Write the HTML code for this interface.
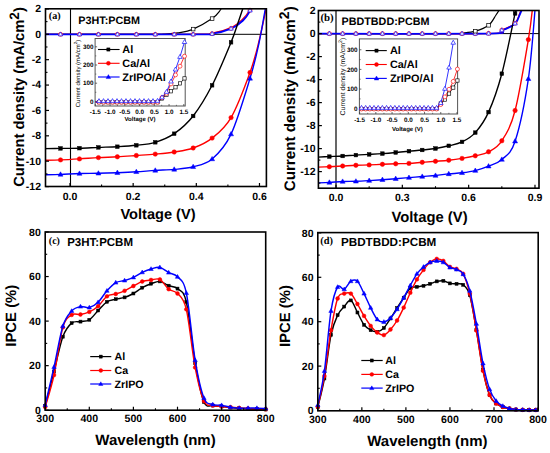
<!DOCTYPE html><html><head><meta charset="utf-8"><style>html,body{margin:0;padding:0;background:#fff;overflow:hidden;width:550px;height:453px;}svg{display:block;}</style></head><body>
<svg width="550" height="453" viewBox="0 0 550 453" text-rendering="geometricPrecision">
<rect width="550" height="453" fill="#fff"/>
<defs><clipPath id="ca"><rect x="45.5" y="8.8" width="220.89999999999998" height="177.7"/></clipPath>
<clipPath id="cb"><rect x="318.4" y="10.5" width="220.60000000000002" height="177.7"/></clipPath>
</defs>
<line x1="45.5" y1="34.3" x2="266.4" y2="34.3" stroke="#000" stroke-width="1.0"/>
<line x1="70.5" y1="8.8" x2="70.5" y2="186.5" stroke="#000" stroke-width="1.1"/>
<g clip-path="url(#ca)">
<path d="M43.5,34.3 C61.25,34.3 129.75,34.35 150,34.3 C170.25,34.25 160.33,34.23 165,34 C169.67,33.77 173.3,33.72 178,32.9 C182.7,32.08 187.52,31.48 193.2,29.1 C198.88,26.72 207.63,21.7 212.1,18.6 C216.57,15.5 218.02,13.1 220,10.5 C221.98,7.9 223.33,4.25 224,3" fill="none" stroke="#000" stroke-width="1.2" stroke-linejoin="round" />
<path d="M43.5,34.3 C67.92,34.3 161.9,34.48 190,34.3 C218.1,34.12 205.25,34.32 212.1,33.2 C218.95,32.08 226.03,29.93 231.1,27.6 C236.17,25.27 239.38,22.13 242.5,19.2 C245.62,16.27 248.13,12.7 249.8,10 C251.47,7.3 252.05,4.17 252.5,3" fill="none" stroke="#ff0000" stroke-width="1.3" stroke-linejoin="round" />
<path d="M43.5,34.3 C67.92,34.3 161.9,34.4 190,34.3 C218.1,34.2 205.25,34.63 212.1,33.7 C218.95,32.77 225.95,30.9 231.1,28.7 C236.25,26.5 239.8,23.52 243,20.5 C246.2,17.48 248.63,13.52 250.3,10.6 C251.97,7.68 252.55,4.27 253,3" fill="none" stroke="#0000ff" stroke-width="1.8" stroke-linejoin="round" />
<path d="M43.5,148.6 C46.34,148.57 54.53,148.47 60.53,148.4 C66.52,148.33 73.16,148.37 79.47,148.2 C85.79,148.03 92.11,147.65 98.42,147.4 C104.74,147.15 111.05,147.05 117.37,146.7 C123.69,146.35 130,146.03 136.32,145.3 C142.63,144.57 148.95,144.23 155.27,142.3 C161.58,140.37 167.9,138.08 174.21,133.7 C180.53,129.32 186.85,124.07 193.16,116 C199.48,107.93 205.79,97.58 212.11,85.3 C218.43,73.02 226.69,52.85 231.06,42.3 C235.42,31.75 236.09,28.38 238.3,22 C240.51,15.62 243.3,7 244.3,4" fill="none" stroke="#000" stroke-width="1.4" stroke-linejoin="round" />
<path d="M43.5,160.3 C46.34,160.23 54.53,160.13 60.53,159.9 C66.52,159.67 73.16,159.28 79.47,158.9 C85.79,158.52 92.11,157.95 98.42,157.6 C104.74,157.25 111.05,157.15 117.37,156.8 C123.69,156.45 130,155.95 136.32,155.5 C142.63,155.05 148.95,154.68 155.27,154.1 C161.58,153.52 167.9,153.02 174.21,152 C180.53,150.98 186.85,150.32 193.16,148 C199.48,145.68 205.79,143.17 212.11,138.1 C218.43,133.03 224.74,128.53 231.06,117.6 C237.37,106.67 245.3,85.43 250.01,72.5 C254.71,59.57 256.53,51.08 259.3,40 C262.07,28.92 265.38,11.67 266.6,6" fill="none" stroke="#ff0000" stroke-width="1.4" stroke-linejoin="round" />
<path d="M43.5,174.8 C46.34,174.73 54.53,174.62 60.53,174.4 C66.52,174.18 73.16,173.68 79.47,173.5 C85.79,173.32 92.11,173.43 98.42,173.3 C104.74,173.17 111.05,172.95 117.37,172.7 C123.69,172.45 130,172.18 136.32,171.8 C142.63,171.42 148.95,170.8 155.27,170.4 C161.58,170 167.9,170 174.21,169.4 C180.53,168.8 186.85,168.53 193.16,166.8 C199.48,165.07 205.79,164.45 212.11,159 C218.43,153.55 224.74,147.53 231.06,134.1 C237.37,120.67 245.38,93.42 250.01,78.4 C254.63,63.38 256.17,56.07 258.8,44 C261.43,31.93 264.63,12.33 265.8,6" fill="none" stroke="#0000ff" stroke-width="1.4" stroke-linejoin="round" />
</g>
<rect x="58.73" y="146.6" width="3.6" height="3.6" fill="#000" stroke="#000" stroke-width="0.5"/>
<rect x="77.67" y="146.4" width="3.6" height="3.6" fill="#000" stroke="#000" stroke-width="0.5"/>
<rect x="96.62" y="145.6" width="3.6" height="3.6" fill="#000" stroke="#000" stroke-width="0.5"/>
<rect x="115.57" y="144.9" width="3.6" height="3.6" fill="#000" stroke="#000" stroke-width="0.5"/>
<rect x="134.52" y="143.5" width="3.6" height="3.6" fill="#000" stroke="#000" stroke-width="0.5"/>
<rect x="153.47" y="140.5" width="3.6" height="3.6" fill="#000" stroke="#000" stroke-width="0.5"/>
<rect x="172.41" y="131.9" width="3.6" height="3.6" fill="#000" stroke="#000" stroke-width="0.5"/>
<rect x="191.36" y="114.2" width="3.6" height="3.6" fill="#000" stroke="#000" stroke-width="0.5"/>
<rect x="210.31" y="83.5" width="3.6" height="3.6" fill="#000" stroke="#000" stroke-width="0.5"/>
<rect x="229.26" y="40.5" width="3.6" height="3.6" fill="#000" stroke="#000" stroke-width="0.5"/>
<circle cx="60.53" cy="159.9" r="2.2" fill="#ff0000" stroke="#ff0000" stroke-width="0.5"/>
<circle cx="79.47" cy="158.9" r="2.2" fill="#ff0000" stroke="#ff0000" stroke-width="0.5"/>
<circle cx="98.42" cy="157.6" r="2.2" fill="#ff0000" stroke="#ff0000" stroke-width="0.5"/>
<circle cx="117.37" cy="156.8" r="2.2" fill="#ff0000" stroke="#ff0000" stroke-width="0.5"/>
<circle cx="136.32" cy="155.5" r="2.2" fill="#ff0000" stroke="#ff0000" stroke-width="0.5"/>
<circle cx="155.27" cy="154.1" r="2.2" fill="#ff0000" stroke="#ff0000" stroke-width="0.5"/>
<circle cx="174.21" cy="152" r="2.2" fill="#ff0000" stroke="#ff0000" stroke-width="0.5"/>
<circle cx="193.16" cy="148" r="2.2" fill="#ff0000" stroke="#ff0000" stroke-width="0.5"/>
<circle cx="212.11" cy="138.1" r="2.2" fill="#ff0000" stroke="#ff0000" stroke-width="0.5"/>
<circle cx="231.06" cy="117.6" r="2.2" fill="#ff0000" stroke="#ff0000" stroke-width="0.5"/>
<circle cx="250.01" cy="72.5" r="2.2" fill="#ff0000" stroke="#ff0000" stroke-width="0.5"/>
<polygon points="60.53,171.8 58.03,176.13 63.03,176.13" fill="#0000ff" stroke="#0000ff" stroke-width="0.5" stroke-linejoin="miter"/>
<polygon points="79.47,170.9 76.97,175.23 81.97,175.23" fill="#0000ff" stroke="#0000ff" stroke-width="0.5" stroke-linejoin="miter"/>
<polygon points="98.42,170.7 95.92,175.03 100.92,175.03" fill="#0000ff" stroke="#0000ff" stroke-width="0.5" stroke-linejoin="miter"/>
<polygon points="117.37,170.1 114.87,174.43 119.87,174.43" fill="#0000ff" stroke="#0000ff" stroke-width="0.5" stroke-linejoin="miter"/>
<polygon points="136.32,169.2 133.82,173.53 138.82,173.53" fill="#0000ff" stroke="#0000ff" stroke-width="0.5" stroke-linejoin="miter"/>
<polygon points="155.27,167.8 152.77,172.13 157.77,172.13" fill="#0000ff" stroke="#0000ff" stroke-width="0.5" stroke-linejoin="miter"/>
<polygon points="174.21,166.8 171.71,171.13 176.71,171.13" fill="#0000ff" stroke="#0000ff" stroke-width="0.5" stroke-linejoin="miter"/>
<polygon points="193.16,164.2 190.66,168.53 195.66,168.53" fill="#0000ff" stroke="#0000ff" stroke-width="0.5" stroke-linejoin="miter"/>
<polygon points="212.11,156.4 209.61,160.73 214.61,160.73" fill="#0000ff" stroke="#0000ff" stroke-width="0.5" stroke-linejoin="miter"/>
<polygon points="231.06,131.5 228.56,135.83 233.56,135.83" fill="#0000ff" stroke="#0000ff" stroke-width="0.5" stroke-linejoin="miter"/>
<polygon points="250.01,75.8 247.51,80.13 252.51,80.13" fill="#0000ff" stroke="#0000ff" stroke-width="0.5" stroke-linejoin="miter"/>
<circle cx="60.53" cy="34.3" r="2" fill="#fff" stroke="#ff0000" stroke-width="0.7"/>
<polygon points="60.53,32.01 58.33,35.82 62.73,35.82" fill="#fff" stroke="#0000ff" stroke-width="0.7" stroke-linejoin="miter"/>
<circle cx="79.47" cy="34.3" r="2" fill="#fff" stroke="#ff0000" stroke-width="0.7"/>
<polygon points="79.47,32.01 77.27,35.82 81.67,35.82" fill="#fff" stroke="#0000ff" stroke-width="0.7" stroke-linejoin="miter"/>
<circle cx="98.42" cy="34.3" r="2" fill="#fff" stroke="#ff0000" stroke-width="0.7"/>
<polygon points="98.42,32.01 96.22,35.82 100.62,35.82" fill="#fff" stroke="#0000ff" stroke-width="0.7" stroke-linejoin="miter"/>
<circle cx="117.37" cy="34.3" r="2" fill="#fff" stroke="#ff0000" stroke-width="0.7"/>
<polygon points="117.37,32.01 115.17,35.82 119.57,35.82" fill="#fff" stroke="#0000ff" stroke-width="0.7" stroke-linejoin="miter"/>
<circle cx="136.32" cy="34.3" r="2" fill="#fff" stroke="#ff0000" stroke-width="0.7"/>
<polygon points="136.32,32.01 134.12,35.82 138.52,35.82" fill="#fff" stroke="#0000ff" stroke-width="0.7" stroke-linejoin="miter"/>
<circle cx="155.27" cy="34.3" r="2" fill="#fff" stroke="#ff0000" stroke-width="0.7"/>
<polygon points="155.27,32.01 153.07,35.82 157.47,35.82" fill="#fff" stroke="#0000ff" stroke-width="0.7" stroke-linejoin="miter"/>
<circle cx="174.21" cy="34.3" r="2" fill="#fff" stroke="#ff0000" stroke-width="0.7"/>
<polygon points="174.21,32.01 172.01,35.82 176.41,35.82" fill="#fff" stroke="#0000ff" stroke-width="0.7" stroke-linejoin="miter"/>
<circle cx="193.16" cy="34.3" r="2" fill="#fff" stroke="#ff0000" stroke-width="0.7"/>
<polygon points="193.16,32.01 190.96,35.82 195.36,35.82" fill="#fff" stroke="#0000ff" stroke-width="0.7" stroke-linejoin="miter"/>
<rect x="191.36" y="27.3" width="3.6" height="3.6" fill="#fff" stroke="#000" stroke-width="0.7"/>
<rect x="210.31" y="16.8" width="3.6" height="3.6" fill="#fff" stroke="#000" stroke-width="0.7"/>
<circle cx="212.11" cy="33.6" r="2" fill="#fff" stroke="#ff0000" stroke-width="0.7"/>
<polygon points="212.11,31.51 209.91,35.32 214.31,35.32" fill="#fff" stroke="#0000ff" stroke-width="0.7" stroke-linejoin="miter"/>
<circle cx="231.06" cy="28.3" r="2" fill="#fff" stroke="#ff0000" stroke-width="0.7"/>
<polygon points="231.06,26.31 228.86,30.12 233.26,30.12" fill="#fff" stroke="#0000ff" stroke-width="0.7" stroke-linejoin="miter"/>
<circle cx="250.01" cy="10.2" r="2" fill="#fff" stroke="#ff0000" stroke-width="0.7"/>
<polygon points="250.01,8.11 247.81,11.92 252.21,11.92" fill="#fff" stroke="#0000ff" stroke-width="0.7" stroke-linejoin="miter"/>
<rect x="45.5" y="8.8" width="220.9" height="177.7" fill="none" stroke="#000" stroke-width="1.6"/>
<line x1="70" y1="186.5" x2="70" y2="183" stroke="#000" stroke-width="1.2"/>
<line x1="133.16" y1="186.5" x2="133.16" y2="183" stroke="#000" stroke-width="1.2"/>
<line x1="196.32" y1="186.5" x2="196.32" y2="183" stroke="#000" stroke-width="1.2"/>
<line x1="259.48" y1="186.5" x2="259.48" y2="183" stroke="#000" stroke-width="1.2"/>
<line x1="101.58" y1="186.5" x2="101.58" y2="184.5" stroke="#000" stroke-width="1.1"/>
<line x1="164.74" y1="186.5" x2="164.74" y2="184.5" stroke="#000" stroke-width="1.1"/>
<line x1="227.9" y1="186.5" x2="227.9" y2="184.5" stroke="#000" stroke-width="1.1"/>
<line x1="45.5" y1="186.58" x2="49" y2="186.58" stroke="#000" stroke-width="1.2"/>
<line x1="45.5" y1="161.2" x2="49" y2="161.2" stroke="#000" stroke-width="1.2"/>
<line x1="45.5" y1="135.82" x2="49" y2="135.82" stroke="#000" stroke-width="1.2"/>
<line x1="45.5" y1="110.44" x2="49" y2="110.44" stroke="#000" stroke-width="1.2"/>
<line x1="45.5" y1="85.06" x2="49" y2="85.06" stroke="#000" stroke-width="1.2"/>
<line x1="45.5" y1="59.68" x2="49" y2="59.68" stroke="#000" stroke-width="1.2"/>
<line x1="45.5" y1="34.3" x2="49" y2="34.3" stroke="#000" stroke-width="1.2"/>
<line x1="45.5" y1="8.92" x2="49" y2="8.92" stroke="#000" stroke-width="1.2"/>
<line x1="45.5" y1="173.89" x2="47.5" y2="173.89" stroke="#000" stroke-width="1.1"/>
<line x1="45.5" y1="148.51" x2="47.5" y2="148.51" stroke="#000" stroke-width="1.1"/>
<line x1="45.5" y1="123.13" x2="47.5" y2="123.13" stroke="#000" stroke-width="1.1"/>
<line x1="45.5" y1="97.75" x2="47.5" y2="97.75" stroke="#000" stroke-width="1.1"/>
<line x1="45.5" y1="72.37" x2="47.5" y2="72.37" stroke="#000" stroke-width="1.1"/>
<line x1="45.5" y1="46.99" x2="47.5" y2="46.99" stroke="#000" stroke-width="1.1"/>
<line x1="45.5" y1="21.61" x2="47.5" y2="21.61" stroke="#000" stroke-width="1.1"/>
<text x="70" y="199.5" font-family='"Liberation Sans", sans-serif' font-size="10.5" font-weight="bold" text-anchor="middle" >0.0</text>
<text x="133.16" y="199.5" font-family='"Liberation Sans", sans-serif' font-size="10.5" font-weight="bold" text-anchor="middle" >0.2</text>
<text x="196.32" y="199.5" font-family='"Liberation Sans", sans-serif' font-size="10.5" font-weight="bold" text-anchor="middle" >0.4</text>
<text x="259.48" y="199.5" font-family='"Liberation Sans", sans-serif' font-size="10.5" font-weight="bold" text-anchor="middle" >0.6</text>
<text x="41" y="189.88" font-family='"Liberation Sans", sans-serif' font-size="10.5" font-weight="bold" text-anchor="end" >-12</text>
<text x="41" y="164.5" font-family='"Liberation Sans", sans-serif' font-size="10.5" font-weight="bold" text-anchor="end" >-10</text>
<text x="41" y="139.12" font-family='"Liberation Sans", sans-serif' font-size="10.5" font-weight="bold" text-anchor="end" >-8</text>
<text x="41" y="113.74" font-family='"Liberation Sans", sans-serif' font-size="10.5" font-weight="bold" text-anchor="end" >-6</text>
<text x="41" y="88.36" font-family='"Liberation Sans", sans-serif' font-size="10.5" font-weight="bold" text-anchor="end" >-4</text>
<text x="41" y="62.98" font-family='"Liberation Sans", sans-serif' font-size="10.5" font-weight="bold" text-anchor="end" >-2</text>
<text x="41" y="37.6" font-family='"Liberation Sans", sans-serif' font-size="10.5" font-weight="bold" text-anchor="end" >0</text>
<text x="41" y="12.22" font-family='"Liberation Sans", sans-serif' font-size="10.5" font-weight="bold" text-anchor="end" >2</text>
<text x="158" y="218.6" font-family='"Liberation Sans", sans-serif' font-size="14.6" font-weight="bold" text-anchor="middle" >Voltage (V)</text>
<text transform="translate(24.1,97.0) rotate(-90)" font-family='"Liberation Sans", sans-serif' font-size="14.75" font-weight="bold" text-anchor="middle">Current density (mA/cm<tspan font-size="13.6" dy="-5.6">2</tspan><tspan dy="5.6">)</tspan></text>
<text x="54.8" y="18.9" font-family='"Liberation Serif", serif' font-size="10.2" font-weight="bold" text-anchor="middle" >(a)</text>
<text x="78.3" y="24.2" font-family='"Liberation Sans", sans-serif' font-size="10.8" font-weight="bold" text-anchor="start" >P3HT:PCBM</text>
<rect x="95.1" y="38.5" width="90.1" height="67.5" fill="#fff" stroke="#555" stroke-width="1"/>
<line x1="95.3" y1="106" x2="95.3" y2="104" stroke="#444" stroke-width="0.8"/>
<text x="95.3" y="113.6" font-family='"Liberation Sans", sans-serif' font-size="6.3" font-weight="bold" text-anchor="middle" >-1.5</text>
<line x1="110.05" y1="106" x2="110.05" y2="104" stroke="#444" stroke-width="0.8"/>
<text x="110.05" y="113.6" font-family='"Liberation Sans", sans-serif' font-size="6.3" font-weight="bold" text-anchor="middle" >-1.0</text>
<line x1="124.8" y1="106" x2="124.8" y2="104" stroke="#444" stroke-width="0.8"/>
<text x="124.8" y="113.6" font-family='"Liberation Sans", sans-serif' font-size="6.3" font-weight="bold" text-anchor="middle" >-0.5</text>
<line x1="139.55" y1="106" x2="139.55" y2="104" stroke="#444" stroke-width="0.8"/>
<text x="139.55" y="113.6" font-family='"Liberation Sans", sans-serif' font-size="6.3" font-weight="bold" text-anchor="middle" >0.0</text>
<line x1="154.3" y1="106" x2="154.3" y2="104" stroke="#444" stroke-width="0.8"/>
<text x="154.3" y="113.6" font-family='"Liberation Sans", sans-serif' font-size="6.3" font-weight="bold" text-anchor="middle" >0.5</text>
<line x1="169.05" y1="106" x2="169.05" y2="104" stroke="#444" stroke-width="0.8"/>
<text x="169.05" y="113.6" font-family='"Liberation Sans", sans-serif' font-size="6.3" font-weight="bold" text-anchor="middle" >1.0</text>
<line x1="183.8" y1="106" x2="183.8" y2="104" stroke="#444" stroke-width="0.8"/>
<text x="183.8" y="113.6" font-family='"Liberation Sans", sans-serif' font-size="6.3" font-weight="bold" text-anchor="middle" >1.5</text>
<line x1="102.68" y1="106" x2="102.68" y2="104.8" stroke="#444" stroke-width="0.7"/>
<line x1="117.43" y1="106" x2="117.43" y2="104.8" stroke="#444" stroke-width="0.7"/>
<line x1="132.18" y1="106" x2="132.18" y2="104.8" stroke="#444" stroke-width="0.7"/>
<line x1="146.93" y1="106" x2="146.93" y2="104.8" stroke="#444" stroke-width="0.7"/>
<line x1="161.68" y1="106" x2="161.68" y2="104.8" stroke="#444" stroke-width="0.7"/>
<line x1="176.43" y1="106" x2="176.43" y2="104.8" stroke="#444" stroke-width="0.7"/>
<line x1="95.1" y1="101.4" x2="97.1" y2="101.4" stroke="#444" stroke-width="0.8"/>
<text x="93.5" y="103.6" font-family='"Liberation Sans", sans-serif' font-size="6.3" font-weight="bold" text-anchor="end" >0</text>
<line x1="95.1" y1="83.2" x2="97.1" y2="83.2" stroke="#444" stroke-width="0.8"/>
<text x="93.5" y="85.4" font-family='"Liberation Sans", sans-serif' font-size="6.3" font-weight="bold" text-anchor="end" >100</text>
<line x1="95.1" y1="65" x2="97.1" y2="65" stroke="#444" stroke-width="0.8"/>
<text x="93.5" y="67.2" font-family='"Liberation Sans", sans-serif' font-size="6.3" font-weight="bold" text-anchor="end" >200</text>
<line x1="95.1" y1="46.8" x2="97.1" y2="46.8" stroke="#444" stroke-width="0.8"/>
<text x="93.5" y="49" font-family='"Liberation Sans", sans-serif' font-size="6.3" font-weight="bold" text-anchor="end" >300</text>
<line x1="95.1" y1="92.3" x2="96.3" y2="92.3" stroke="#444" stroke-width="0.7"/>
<line x1="95.1" y1="74.1" x2="96.3" y2="74.1" stroke="#444" stroke-width="0.7"/>
<line x1="95.1" y1="55.9" x2="96.3" y2="55.9" stroke="#444" stroke-width="0.7"/>
<text x="140" y="120.8" font-family='"Liberation Sans", sans-serif' font-size="6.0" font-weight="bold" text-anchor="middle" >Voltage (V)</text>
<text transform="translate(80.3,73.5) rotate(-90)" font-family='"Liberation Sans", sans-serif' font-size="6.0" text-anchor="middle">Current density (mA/cm<tspan font-size="4.5" dy="-3">2</tspan><tspan dy="3">)</tspan></text>
<path d="M95.6,102.2 L99,102.2 L103.5,102.2 L108,102.2 L112.5,102.2 L117,102.2 L121.5,102.2 L126,102.2 L130.5,102.2 L135,102.2 L139.5,102.2 L144,102.2 L148.5,102.2 L153,102.2 L157.5,102.2 L162,98.5 L166.5,94.8 L171,91.3 L175.5,87.3 L180,83.4 L184.5,78.4" fill="none" stroke="#000" stroke-width="0.8" stroke-linejoin="round" />
<path d="M95.6,102.2 L99,102.2 L103.5,102.2 L108,102.2 L112.5,102.2 L117,102.2 L121.5,102.2 L126,102.2 L130.5,102.2 L135,102.2 L139.5,102.2 L144,102.2 L148.5,102.2 L153,102.2 L157.5,102.2 L162,97.5 L166.5,93.3 L171,83.9 L175.5,74.9 L180,66.2 L184.5,56.2" fill="none" stroke="#ff0000" stroke-width="0.8" stroke-linejoin="round" />
<path d="M95.6,102 L99,102 L103.5,102 L108,102 L112.5,102 L117,102 L121.5,102 L126,102 L130.5,102 L135,102 L139.5,102 L144,102 L148.5,102 L153,102 L157.5,100.8 L162,97.3 L166.5,91.8 L171,81.4 L175.5,69.4 L180,56.8 L184.5,41.9" fill="none" stroke="#0000ff" stroke-width="0.8" stroke-linejoin="round" />
<rect x="97.35" y="100.55" width="3.3" height="3.3" fill="#fff" stroke="#000" stroke-width="0.65"/>
<rect x="101.85" y="100.55" width="3.3" height="3.3" fill="#fff" stroke="#000" stroke-width="0.65"/>
<rect x="106.35" y="100.55" width="3.3" height="3.3" fill="#fff" stroke="#000" stroke-width="0.65"/>
<rect x="110.85" y="100.55" width="3.3" height="3.3" fill="#fff" stroke="#000" stroke-width="0.65"/>
<rect x="115.35" y="100.55" width="3.3" height="3.3" fill="#fff" stroke="#000" stroke-width="0.65"/>
<rect x="119.85" y="100.55" width="3.3" height="3.3" fill="#fff" stroke="#000" stroke-width="0.65"/>
<rect x="124.35" y="100.55" width="3.3" height="3.3" fill="#fff" stroke="#000" stroke-width="0.65"/>
<rect x="128.85" y="100.55" width="3.3" height="3.3" fill="#fff" stroke="#000" stroke-width="0.65"/>
<rect x="133.35" y="100.55" width="3.3" height="3.3" fill="#fff" stroke="#000" stroke-width="0.65"/>
<rect x="137.85" y="100.55" width="3.3" height="3.3" fill="#fff" stroke="#000" stroke-width="0.65"/>
<rect x="142.35" y="100.55" width="3.3" height="3.3" fill="#fff" stroke="#000" stroke-width="0.65"/>
<rect x="146.85" y="100.55" width="3.3" height="3.3" fill="#fff" stroke="#000" stroke-width="0.65"/>
<rect x="151.35" y="100.55" width="3.3" height="3.3" fill="#fff" stroke="#000" stroke-width="0.65"/>
<rect x="155.85" y="100.55" width="3.3" height="3.3" fill="#fff" stroke="#000" stroke-width="0.65"/>
<rect x="160.35" y="96.85" width="3.3" height="3.3" fill="#fff" stroke="#000" stroke-width="0.65"/>
<rect x="164.85" y="93.15" width="3.3" height="3.3" fill="#fff" stroke="#000" stroke-width="0.65"/>
<rect x="169.35" y="89.65" width="3.3" height="3.3" fill="#fff" stroke="#000" stroke-width="0.65"/>
<rect x="173.85" y="85.65" width="3.3" height="3.3" fill="#fff" stroke="#000" stroke-width="0.65"/>
<rect x="178.35" y="81.75" width="3.3" height="3.3" fill="#fff" stroke="#000" stroke-width="0.65"/>
<rect x="182.85" y="76.75" width="3.3" height="3.3" fill="#fff" stroke="#000" stroke-width="0.65"/>
<circle cx="99" cy="102.2" r="2" fill="#fff" stroke="#ff0000" stroke-width="0.65"/>
<circle cx="103.5" cy="102.2" r="2" fill="#fff" stroke="#ff0000" stroke-width="0.65"/>
<circle cx="108" cy="102.2" r="2" fill="#fff" stroke="#ff0000" stroke-width="0.65"/>
<circle cx="112.5" cy="102.2" r="2" fill="#fff" stroke="#ff0000" stroke-width="0.65"/>
<circle cx="117" cy="102.2" r="2" fill="#fff" stroke="#ff0000" stroke-width="0.65"/>
<circle cx="121.5" cy="102.2" r="2" fill="#fff" stroke="#ff0000" stroke-width="0.65"/>
<circle cx="126" cy="102.2" r="2" fill="#fff" stroke="#ff0000" stroke-width="0.65"/>
<circle cx="130.5" cy="102.2" r="2" fill="#fff" stroke="#ff0000" stroke-width="0.65"/>
<circle cx="135" cy="102.2" r="2" fill="#fff" stroke="#ff0000" stroke-width="0.65"/>
<circle cx="139.5" cy="102.2" r="2" fill="#fff" stroke="#ff0000" stroke-width="0.65"/>
<circle cx="144" cy="102.2" r="2" fill="#fff" stroke="#ff0000" stroke-width="0.65"/>
<circle cx="148.5" cy="102.2" r="2" fill="#fff" stroke="#ff0000" stroke-width="0.65"/>
<circle cx="153" cy="102.2" r="2" fill="#fff" stroke="#ff0000" stroke-width="0.65"/>
<circle cx="157.5" cy="102.2" r="2" fill="#fff" stroke="#ff0000" stroke-width="0.65"/>
<circle cx="162" cy="97.5" r="2" fill="#fff" stroke="#ff0000" stroke-width="0.65"/>
<circle cx="166.5" cy="93.3" r="2" fill="#fff" stroke="#ff0000" stroke-width="0.65"/>
<circle cx="171" cy="83.9" r="2" fill="#fff" stroke="#ff0000" stroke-width="0.65"/>
<circle cx="175.5" cy="74.9" r="2" fill="#fff" stroke="#ff0000" stroke-width="0.65"/>
<circle cx="180" cy="66.2" r="2" fill="#fff" stroke="#ff0000" stroke-width="0.65"/>
<circle cx="184.5" cy="56.2" r="2" fill="#fff" stroke="#ff0000" stroke-width="0.65"/>
<polygon points="99,98.61 96.7,102.59 101.3,102.59" fill="#fff" stroke="#0000ff" stroke-width="0.65" stroke-linejoin="miter"/>
<polygon points="103.5,98.61 101.2,102.59 105.8,102.59" fill="#fff" stroke="#0000ff" stroke-width="0.65" stroke-linejoin="miter"/>
<polygon points="108,98.61 105.7,102.59 110.3,102.59" fill="#fff" stroke="#0000ff" stroke-width="0.65" stroke-linejoin="miter"/>
<polygon points="112.5,98.61 110.2,102.59 114.8,102.59" fill="#fff" stroke="#0000ff" stroke-width="0.65" stroke-linejoin="miter"/>
<polygon points="117,98.61 114.7,102.59 119.3,102.59" fill="#fff" stroke="#0000ff" stroke-width="0.65" stroke-linejoin="miter"/>
<polygon points="121.5,98.61 119.2,102.59 123.8,102.59" fill="#fff" stroke="#0000ff" stroke-width="0.65" stroke-linejoin="miter"/>
<polygon points="126,98.61 123.7,102.59 128.3,102.59" fill="#fff" stroke="#0000ff" stroke-width="0.65" stroke-linejoin="miter"/>
<polygon points="130.5,98.61 128.2,102.59 132.8,102.59" fill="#fff" stroke="#0000ff" stroke-width="0.65" stroke-linejoin="miter"/>
<polygon points="135,98.61 132.7,102.59 137.3,102.59" fill="#fff" stroke="#0000ff" stroke-width="0.65" stroke-linejoin="miter"/>
<polygon points="139.5,98.61 137.2,102.59 141.8,102.59" fill="#fff" stroke="#0000ff" stroke-width="0.65" stroke-linejoin="miter"/>
<polygon points="144,98.61 141.7,102.59 146.3,102.59" fill="#fff" stroke="#0000ff" stroke-width="0.65" stroke-linejoin="miter"/>
<polygon points="148.5,98.61 146.2,102.59 150.8,102.59" fill="#fff" stroke="#0000ff" stroke-width="0.65" stroke-linejoin="miter"/>
<polygon points="153,98.61 150.7,102.59 155.3,102.59" fill="#fff" stroke="#0000ff" stroke-width="0.65" stroke-linejoin="miter"/>
<polygon points="157.5,98.41 155.2,102.39 159.8,102.39" fill="#fff" stroke="#0000ff" stroke-width="0.65" stroke-linejoin="miter"/>
<polygon points="162,94.91 159.7,98.89 164.3,98.89" fill="#fff" stroke="#0000ff" stroke-width="0.65" stroke-linejoin="miter"/>
<polygon points="166.5,89.41 164.2,93.39 168.8,93.39" fill="#fff" stroke="#0000ff" stroke-width="0.65" stroke-linejoin="miter"/>
<polygon points="171,79.01 168.7,82.99 173.3,82.99" fill="#fff" stroke="#0000ff" stroke-width="0.65" stroke-linejoin="miter"/>
<polygon points="175.5,67.01 173.2,70.99 177.8,70.99" fill="#fff" stroke="#0000ff" stroke-width="0.65" stroke-linejoin="miter"/>
<polygon points="180,54.41 177.7,58.39 182.3,58.39" fill="#fff" stroke="#0000ff" stroke-width="0.65" stroke-linejoin="miter"/>
<polygon points="184.5,39.51 182.2,43.49 186.8,43.49" fill="#fff" stroke="#0000ff" stroke-width="0.65" stroke-linejoin="miter"/>
<line x1="98" y1="49.5" x2="119.6" y2="49.5" stroke="#000" stroke-width="1.1"/>
<rect x="106.8" y="47.9" width="3.2" height="3.2" fill="#000" stroke="#000" stroke-width="0.4"/>
<text x="122.3" y="53.3" font-family='"Liberation Sans", sans-serif' font-size="10.9" font-weight="bold" text-anchor="start" >Al</text>
<line x1="98" y1="63.3" x2="119.6" y2="63.3" stroke="#ff0000" stroke-width="1.1"/>
<circle cx="108.4" cy="63.3" r="2" fill="#ff0000" stroke="#ff0000" stroke-width="0.4"/>
<text x="122.3" y="67.1" font-family='"Liberation Sans", sans-serif' font-size="10.9" font-weight="bold" text-anchor="start" >Ca/Al</text>
<line x1="98" y1="77" x2="119.6" y2="77" stroke="#0000ff" stroke-width="1.1"/>
<polygon points="108.4,74.61 106.1,78.59 110.7,78.59" fill="#0000ff" stroke="#0000ff" stroke-width="0.4" stroke-linejoin="miter"/>
<text x="122.3" y="80.8" font-family='"Liberation Sans", sans-serif' font-size="10.9" font-weight="bold" text-anchor="start" >ZrIPO/Al</text>
<line x1="318.4" y1="33.6" x2="539" y2="33.6" stroke="#000" stroke-width="1.0"/>
<line x1="336" y1="10.5" x2="336" y2="188.2" stroke="#000" stroke-width="1.2"/>
<g clip-path="url(#cb)">
<path d="M316.4,33.6 C338.67,33.6 425.73,33.7 450,33.6 C474.27,33.5 457.78,33.4 462,33 C466.22,32.6 470.87,32.48 475.3,31.2 C479.73,29.92 485.15,28 488.6,25.3 C492.05,22.6 494.02,17.88 496,15 C497.98,12.12 499.75,9.17 500.5,8" fill="none" stroke="#000" stroke-width="1.2" stroke-linejoin="round" />
<path d="M316.4,33.6 C344.5,33.6 454.1,34.2 485,33.6 C515.9,33 496.78,31.73 501.8,30 C506.82,28.27 512.15,25.87 515.1,23.2 C518.05,20.53 518.35,16.7 519.5,14 C520.65,11.3 521.58,8.17 522,7" fill="none" stroke="#ff0000" stroke-width="1.3" stroke-linejoin="round" />
<path d="M316.4,33.6 C344.5,33.6 454.1,34.13 485,33.6 C515.9,33.07 496.78,32.07 501.8,30.4 C506.82,28.73 512.07,26.33 515.1,23.6 C518.13,20.87 518.68,16.77 520,14 C521.32,11.23 522.5,8.17 523,7" fill="none" stroke="#0000ff" stroke-width="1.8" stroke-linejoin="round" />
<path d="M316.4,157.2 C318.56,157.1 324.99,156.8 329.37,156.6 C333.74,156.4 338.21,156.25 342.63,156 C347.05,155.75 351.48,155.37 355.9,155.1 C360.32,154.83 364.74,154.65 369.17,154.4 C373.59,154.15 378.01,153.92 382.43,153.6 C386.85,153.28 391.27,152.9 395.7,152.5 C400.12,152.1 404.54,151.62 408.96,151.2 C413.38,150.78 417.81,150.45 422.23,150 C426.65,149.55 431.07,149.2 435.5,148.5 C439.92,147.8 444.34,146.9 448.76,145.8 C453.18,144.7 457.6,144.1 462.03,141.9 C466.45,139.7 470.87,137.57 475.29,132.6 C479.72,127.63 484.14,121.92 488.56,112.1 C492.98,102.28 497.4,90.15 501.82,73.7 C506.25,57.25 512.48,25.02 515.09,13.4 C517.7,1.78 517.1,5.57 517.5,4" fill="none" stroke="#000" stroke-width="1.4" stroke-linejoin="round" />
<path d="M316.4,167.2 C318.56,167.12 324.99,166.9 329.37,166.7 C333.74,166.5 338.21,166.23 342.63,166 C347.05,165.77 351.48,165.48 355.9,165.3 C360.32,165.12 364.74,165.07 369.17,164.9 C373.59,164.73 378.01,164.48 382.43,164.3 C386.85,164.12 391.27,163.95 395.7,163.8 C400.12,163.65 404.54,163.65 408.96,163.4 C413.38,163.15 417.81,162.65 422.23,162.3 C426.65,161.95 431.07,161.65 435.5,161.3 C439.92,160.95 444.34,160.68 448.76,160.2 C453.18,159.72 457.6,159.13 462.03,158.4 C466.45,157.67 470.87,156.9 475.29,155.8 C479.72,154.7 484.14,154.3 488.56,151.8 C492.98,149.3 497.4,147.68 501.82,140.8 C506.25,133.92 510.67,127.37 515.09,110.5 C519.51,93.63 525.37,57.35 528.36,39.6 C531.34,21.85 532.23,9.93 533,4" fill="none" stroke="#ff0000" stroke-width="1.4" stroke-linejoin="round" />
<path d="M316.4,183 C318.56,182.9 324.99,182.65 329.37,182.4 C333.74,182.15 338.21,181.68 342.63,181.5 C347.05,181.32 351.48,181.45 355.9,181.3 C360.32,181.15 364.74,180.87 369.17,180.6 C373.59,180.33 378.01,180.02 382.43,179.7 C386.85,179.38 391.27,179.05 395.7,178.7 C400.12,178.35 404.54,177.97 408.96,177.6 C413.38,177.23 417.81,176.85 422.23,176.5 C426.65,176.15 431.07,175.93 435.5,175.5 C439.92,175.07 444.34,174.35 448.76,173.9 C453.18,173.45 457.6,173.35 462.03,172.8 C466.45,172.25 470.87,171.7 475.29,170.6 C479.72,169.5 484.14,168.05 488.56,166.2 C492.98,164.35 497.4,163.67 501.82,159.5 C506.25,155.33 510.67,154.65 515.09,141.2 C519.51,127.75 524.96,101.67 528.36,78.8 C531.76,55.93 534.31,16.47 535.5,4" fill="none" stroke="#0000ff" stroke-width="1.4" stroke-linejoin="round" />
</g>
<rect x="327.57" y="154.8" width="3.6" height="3.6" fill="#000" stroke="#000" stroke-width="0.5"/>
<rect x="340.83" y="154.2" width="3.6" height="3.6" fill="#000" stroke="#000" stroke-width="0.5"/>
<rect x="354.1" y="153.3" width="3.6" height="3.6" fill="#000" stroke="#000" stroke-width="0.5"/>
<rect x="367.37" y="152.6" width="3.6" height="3.6" fill="#000" stroke="#000" stroke-width="0.5"/>
<rect x="380.63" y="151.8" width="3.6" height="3.6" fill="#000" stroke="#000" stroke-width="0.5"/>
<rect x="393.9" y="150.7" width="3.6" height="3.6" fill="#000" stroke="#000" stroke-width="0.5"/>
<rect x="407.16" y="149.4" width="3.6" height="3.6" fill="#000" stroke="#000" stroke-width="0.5"/>
<rect x="420.43" y="148.2" width="3.6" height="3.6" fill="#000" stroke="#000" stroke-width="0.5"/>
<rect x="433.69" y="146.7" width="3.6" height="3.6" fill="#000" stroke="#000" stroke-width="0.5"/>
<rect x="446.96" y="144" width="3.6" height="3.6" fill="#000" stroke="#000" stroke-width="0.5"/>
<rect x="460.23" y="140.1" width="3.6" height="3.6" fill="#000" stroke="#000" stroke-width="0.5"/>
<rect x="473.49" y="130.8" width="3.6" height="3.6" fill="#000" stroke="#000" stroke-width="0.5"/>
<rect x="486.76" y="110.3" width="3.6" height="3.6" fill="#000" stroke="#000" stroke-width="0.5"/>
<rect x="500.02" y="71.9" width="3.6" height="3.6" fill="#000" stroke="#000" stroke-width="0.5"/>
<rect x="513.29" y="11.6" width="3.6" height="3.6" fill="#000" stroke="#000" stroke-width="0.5"/>
<circle cx="329.37" cy="166.7" r="2.2" fill="#ff0000" stroke="#ff0000" stroke-width="0.5"/>
<circle cx="342.63" cy="166" r="2.2" fill="#ff0000" stroke="#ff0000" stroke-width="0.5"/>
<circle cx="355.9" cy="165.3" r="2.2" fill="#ff0000" stroke="#ff0000" stroke-width="0.5"/>
<circle cx="369.17" cy="164.9" r="2.2" fill="#ff0000" stroke="#ff0000" stroke-width="0.5"/>
<circle cx="382.43" cy="164.3" r="2.2" fill="#ff0000" stroke="#ff0000" stroke-width="0.5"/>
<circle cx="395.7" cy="163.8" r="2.2" fill="#ff0000" stroke="#ff0000" stroke-width="0.5"/>
<circle cx="408.96" cy="163.4" r="2.2" fill="#ff0000" stroke="#ff0000" stroke-width="0.5"/>
<circle cx="422.23" cy="162.3" r="2.2" fill="#ff0000" stroke="#ff0000" stroke-width="0.5"/>
<circle cx="435.5" cy="161.3" r="2.2" fill="#ff0000" stroke="#ff0000" stroke-width="0.5"/>
<circle cx="448.76" cy="160.2" r="2.2" fill="#ff0000" stroke="#ff0000" stroke-width="0.5"/>
<circle cx="462.03" cy="158.4" r="2.2" fill="#ff0000" stroke="#ff0000" stroke-width="0.5"/>
<circle cx="475.29" cy="155.8" r="2.2" fill="#ff0000" stroke="#ff0000" stroke-width="0.5"/>
<circle cx="488.56" cy="151.8" r="2.2" fill="#ff0000" stroke="#ff0000" stroke-width="0.5"/>
<circle cx="501.82" cy="140.8" r="2.2" fill="#ff0000" stroke="#ff0000" stroke-width="0.5"/>
<circle cx="515.09" cy="110.5" r="2.2" fill="#ff0000" stroke="#ff0000" stroke-width="0.5"/>
<circle cx="528.36" cy="39.6" r="2.2" fill="#ff0000" stroke="#ff0000" stroke-width="0.5"/>
<polygon points="329.37,179.8 326.87,184.13 331.87,184.13" fill="#0000ff" stroke="#0000ff" stroke-width="0.5" stroke-linejoin="miter"/>
<polygon points="342.63,178.9 340.13,183.23 345.13,183.23" fill="#0000ff" stroke="#0000ff" stroke-width="0.5" stroke-linejoin="miter"/>
<polygon points="355.9,178.7 353.4,183.03 358.4,183.03" fill="#0000ff" stroke="#0000ff" stroke-width="0.5" stroke-linejoin="miter"/>
<polygon points="369.17,178 366.67,182.33 371.67,182.33" fill="#0000ff" stroke="#0000ff" stroke-width="0.5" stroke-linejoin="miter"/>
<polygon points="382.43,177.1 379.93,181.43 384.93,181.43" fill="#0000ff" stroke="#0000ff" stroke-width="0.5" stroke-linejoin="miter"/>
<polygon points="395.7,176.1 393.2,180.43 398.2,180.43" fill="#0000ff" stroke="#0000ff" stroke-width="0.5" stroke-linejoin="miter"/>
<polygon points="408.96,175 406.46,179.33 411.46,179.33" fill="#0000ff" stroke="#0000ff" stroke-width="0.5" stroke-linejoin="miter"/>
<polygon points="422.23,173.9 419.73,178.23 424.73,178.23" fill="#0000ff" stroke="#0000ff" stroke-width="0.5" stroke-linejoin="miter"/>
<polygon points="435.5,172.9 433,177.23 438,177.23" fill="#0000ff" stroke="#0000ff" stroke-width="0.5" stroke-linejoin="miter"/>
<polygon points="448.76,171.3 446.26,175.63 451.26,175.63" fill="#0000ff" stroke="#0000ff" stroke-width="0.5" stroke-linejoin="miter"/>
<polygon points="462.03,170.2 459.53,174.53 464.53,174.53" fill="#0000ff" stroke="#0000ff" stroke-width="0.5" stroke-linejoin="miter"/>
<polygon points="475.29,168 472.79,172.33 477.79,172.33" fill="#0000ff" stroke="#0000ff" stroke-width="0.5" stroke-linejoin="miter"/>
<polygon points="488.56,163.6 486.06,167.93 491.06,167.93" fill="#0000ff" stroke="#0000ff" stroke-width="0.5" stroke-linejoin="miter"/>
<polygon points="501.82,156.9 499.32,161.23 504.32,161.23" fill="#0000ff" stroke="#0000ff" stroke-width="0.5" stroke-linejoin="miter"/>
<polygon points="515.09,138.6 512.59,142.93 517.59,142.93" fill="#0000ff" stroke="#0000ff" stroke-width="0.5" stroke-linejoin="miter"/>
<polygon points="528.36,76.2 525.86,80.53 530.86,80.53" fill="#0000ff" stroke="#0000ff" stroke-width="0.5" stroke-linejoin="miter"/>
<circle cx="329.37" cy="33.6" r="2" fill="#fff" stroke="#ff0000" stroke-width="0.7"/>
<polygon points="329.37,31.31 327.17,35.12 331.57,35.12" fill="#fff" stroke="#0000ff" stroke-width="0.7" stroke-linejoin="miter"/>
<circle cx="342.63" cy="33.6" r="2" fill="#fff" stroke="#ff0000" stroke-width="0.7"/>
<polygon points="342.63,31.31 340.43,35.12 344.83,35.12" fill="#fff" stroke="#0000ff" stroke-width="0.7" stroke-linejoin="miter"/>
<circle cx="355.9" cy="33.6" r="2" fill="#fff" stroke="#ff0000" stroke-width="0.7"/>
<polygon points="355.9,31.31 353.7,35.12 358.1,35.12" fill="#fff" stroke="#0000ff" stroke-width="0.7" stroke-linejoin="miter"/>
<circle cx="369.17" cy="33.6" r="2" fill="#fff" stroke="#ff0000" stroke-width="0.7"/>
<polygon points="369.17,31.31 366.97,35.12 371.37,35.12" fill="#fff" stroke="#0000ff" stroke-width="0.7" stroke-linejoin="miter"/>
<circle cx="382.43" cy="33.6" r="2" fill="#fff" stroke="#ff0000" stroke-width="0.7"/>
<polygon points="382.43,31.31 380.23,35.12 384.63,35.12" fill="#fff" stroke="#0000ff" stroke-width="0.7" stroke-linejoin="miter"/>
<circle cx="395.7" cy="33.6" r="2" fill="#fff" stroke="#ff0000" stroke-width="0.7"/>
<polygon points="395.7,31.31 393.5,35.12 397.9,35.12" fill="#fff" stroke="#0000ff" stroke-width="0.7" stroke-linejoin="miter"/>
<circle cx="408.96" cy="33.6" r="2" fill="#fff" stroke="#ff0000" stroke-width="0.7"/>
<polygon points="408.96,31.31 406.76,35.12 411.16,35.12" fill="#fff" stroke="#0000ff" stroke-width="0.7" stroke-linejoin="miter"/>
<circle cx="422.23" cy="33.6" r="2" fill="#fff" stroke="#ff0000" stroke-width="0.7"/>
<polygon points="422.23,31.31 420.03,35.12 424.43,35.12" fill="#fff" stroke="#0000ff" stroke-width="0.7" stroke-linejoin="miter"/>
<circle cx="435.5" cy="33.6" r="2" fill="#fff" stroke="#ff0000" stroke-width="0.7"/>
<polygon points="435.5,31.31 433.3,35.12 437.69,35.12" fill="#fff" stroke="#0000ff" stroke-width="0.7" stroke-linejoin="miter"/>
<circle cx="448.76" cy="33.6" r="2" fill="#fff" stroke="#ff0000" stroke-width="0.7"/>
<polygon points="448.76,31.31 446.56,35.12 450.96,35.12" fill="#fff" stroke="#0000ff" stroke-width="0.7" stroke-linejoin="miter"/>
<circle cx="462.03" cy="33.6" r="2" fill="#fff" stroke="#ff0000" stroke-width="0.7"/>
<polygon points="462.03,31.31 459.83,35.12 464.23,35.12" fill="#fff" stroke="#0000ff" stroke-width="0.7" stroke-linejoin="miter"/>
<circle cx="475.29" cy="33.6" r="2" fill="#fff" stroke="#ff0000" stroke-width="0.7"/>
<polygon points="475.29,31.31 473.09,35.12 477.49,35.12" fill="#fff" stroke="#0000ff" stroke-width="0.7" stroke-linejoin="miter"/>
<rect x="473.49" y="29.4" width="3.6" height="3.6" fill="#fff" stroke="#000" stroke-width="0.7"/>
<rect x="486.76" y="23.5" width="3.6" height="3.6" fill="#fff" stroke="#000" stroke-width="0.7"/>
<circle cx="488.56" cy="33.3" r="2" fill="#fff" stroke="#ff0000" stroke-width="0.7"/>
<polygon points="488.56,31.21 486.36,35.02 490.76,35.02" fill="#fff" stroke="#0000ff" stroke-width="0.7" stroke-linejoin="miter"/>
<circle cx="501.82" cy="30" r="2" fill="#fff" stroke="#ff0000" stroke-width="0.7"/>
<polygon points="501.82,27.91 499.62,31.72 504.02,31.72" fill="#fff" stroke="#0000ff" stroke-width="0.7" stroke-linejoin="miter"/>
<circle cx="515.09" cy="23.2" r="2" fill="#fff" stroke="#ff0000" stroke-width="0.7"/>
<polygon points="515.09,21.11 512.89,24.92 517.29,24.92" fill="#fff" stroke="#0000ff" stroke-width="0.7" stroke-linejoin="miter"/>
<rect x="318.4" y="10.5" width="220.6" height="177.7" fill="none" stroke="#000" stroke-width="1.6"/>
<line x1="336" y1="188.2" x2="336" y2="184.7" stroke="#000" stroke-width="1.2"/>
<line x1="402.33" y1="188.2" x2="402.33" y2="184.7" stroke="#000" stroke-width="1.2"/>
<line x1="468.66" y1="188.2" x2="468.66" y2="184.7" stroke="#000" stroke-width="1.2"/>
<line x1="534.99" y1="188.2" x2="534.99" y2="184.7" stroke="#000" stroke-width="1.2"/>
<line x1="369.17" y1="188.2" x2="369.17" y2="186.2" stroke="#000" stroke-width="1.1"/>
<line x1="435.5" y1="188.2" x2="435.5" y2="186.2" stroke="#000" stroke-width="1.1"/>
<line x1="501.82" y1="188.2" x2="501.82" y2="186.2" stroke="#000" stroke-width="1.1"/>
<line x1="318.4" y1="171.6" x2="321.9" y2="171.6" stroke="#000" stroke-width="1.2"/>
<line x1="318.4" y1="148.6" x2="321.9" y2="148.6" stroke="#000" stroke-width="1.2"/>
<line x1="318.4" y1="125.6" x2="321.9" y2="125.6" stroke="#000" stroke-width="1.2"/>
<line x1="318.4" y1="102.6" x2="321.9" y2="102.6" stroke="#000" stroke-width="1.2"/>
<line x1="318.4" y1="79.6" x2="321.9" y2="79.6" stroke="#000" stroke-width="1.2"/>
<line x1="318.4" y1="56.6" x2="321.9" y2="56.6" stroke="#000" stroke-width="1.2"/>
<line x1="318.4" y1="33.6" x2="321.9" y2="33.6" stroke="#000" stroke-width="1.2"/>
<line x1="318.4" y1="10.6" x2="321.9" y2="10.6" stroke="#000" stroke-width="1.2"/>
<line x1="318.4" y1="183.1" x2="320.4" y2="183.1" stroke="#000" stroke-width="1.1"/>
<line x1="318.4" y1="160.1" x2="320.4" y2="160.1" stroke="#000" stroke-width="1.1"/>
<line x1="318.4" y1="137.1" x2="320.4" y2="137.1" stroke="#000" stroke-width="1.1"/>
<line x1="318.4" y1="114.1" x2="320.4" y2="114.1" stroke="#000" stroke-width="1.1"/>
<line x1="318.4" y1="91.1" x2="320.4" y2="91.1" stroke="#000" stroke-width="1.1"/>
<line x1="318.4" y1="68.1" x2="320.4" y2="68.1" stroke="#000" stroke-width="1.1"/>
<line x1="318.4" y1="45.1" x2="320.4" y2="45.1" stroke="#000" stroke-width="1.1"/>
<line x1="318.4" y1="22.1" x2="320.4" y2="22.1" stroke="#000" stroke-width="1.1"/>
<text x="336" y="201" font-family='"Liberation Sans", sans-serif' font-size="10.5" font-weight="bold" text-anchor="middle" >0.0</text>
<text x="402.33" y="201" font-family='"Liberation Sans", sans-serif' font-size="10.5" font-weight="bold" text-anchor="middle" >0.3</text>
<text x="468.66" y="201" font-family='"Liberation Sans", sans-serif' font-size="10.5" font-weight="bold" text-anchor="middle" >0.6</text>
<text x="534.99" y="201" font-family='"Liberation Sans", sans-serif' font-size="10.5" font-weight="bold" text-anchor="middle" >0.9</text>
<text x="315.5" y="175.3" font-family='"Liberation Sans", sans-serif' font-size="10.5" font-weight="bold" text-anchor="end" >-12</text>
<text x="315.5" y="152.3" font-family='"Liberation Sans", sans-serif' font-size="10.5" font-weight="bold" text-anchor="end" >-10</text>
<text x="315.5" y="129.3" font-family='"Liberation Sans", sans-serif' font-size="10.5" font-weight="bold" text-anchor="end" >-8</text>
<text x="315.5" y="106.3" font-family='"Liberation Sans", sans-serif' font-size="10.5" font-weight="bold" text-anchor="end" >-6</text>
<text x="315.5" y="83.3" font-family='"Liberation Sans", sans-serif' font-size="10.5" font-weight="bold" text-anchor="end" >-4</text>
<text x="315.5" y="60.3" font-family='"Liberation Sans", sans-serif' font-size="10.5" font-weight="bold" text-anchor="end" >-2</text>
<text x="315.5" y="37.3" font-family='"Liberation Sans", sans-serif' font-size="10.5" font-weight="bold" text-anchor="end" >0</text>
<text x="315.5" y="14.3" font-family='"Liberation Sans", sans-serif' font-size="10.5" font-weight="bold" text-anchor="end" >2</text>
<text x="429.5" y="222.1" font-family='"Liberation Sans", sans-serif' font-size="14.8" font-weight="bold" text-anchor="middle" >Voltage (V)</text>
<text transform="translate(294.9,98.8) rotate(-90)" font-family='"Liberation Sans", sans-serif' font-size="15.2" font-weight="bold" text-anchor="middle">Current density (mA/cm<tspan font-size="14" dy="-5.8">2</tspan><tspan dy="5.8">)</tspan></text>
<text x="327" y="20.5" font-family='"Liberation Serif", serif' font-size="10.8" font-weight="bold" text-anchor="middle" >(b)</text>
<text x="341.6" y="24.8" font-family='"Liberation Sans", sans-serif' font-size="10.75" font-weight="bold" text-anchor="start" >PBDTBDD:PCBM</text>
<rect x="359.4" y="38.9" width="98.20000000000005" height="75.1" fill="#fff" stroke="#555" stroke-width="1"/>
<line x1="359.6" y1="114" x2="359.6" y2="112" stroke="#444" stroke-width="0.8"/>
<text x="359.6" y="121.6" font-family='"Liberation Sans", sans-serif' font-size="6.3" font-weight="bold" text-anchor="middle" >-1.5</text>
<line x1="375.83" y1="114" x2="375.83" y2="112" stroke="#444" stroke-width="0.8"/>
<text x="375.83" y="121.6" font-family='"Liberation Sans", sans-serif' font-size="6.3" font-weight="bold" text-anchor="middle" >-1.0</text>
<line x1="392.06" y1="114" x2="392.06" y2="112" stroke="#444" stroke-width="0.8"/>
<text x="392.06" y="121.6" font-family='"Liberation Sans", sans-serif' font-size="6.3" font-weight="bold" text-anchor="middle" >-0.5</text>
<line x1="408.3" y1="114" x2="408.3" y2="112" stroke="#444" stroke-width="0.8"/>
<text x="408.3" y="121.6" font-family='"Liberation Sans", sans-serif' font-size="6.3" font-weight="bold" text-anchor="middle" >0.0</text>
<line x1="424.54" y1="114" x2="424.54" y2="112" stroke="#444" stroke-width="0.8"/>
<text x="424.54" y="121.6" font-family='"Liberation Sans", sans-serif' font-size="6.3" font-weight="bold" text-anchor="middle" >0.5</text>
<line x1="440.77" y1="114" x2="440.77" y2="112" stroke="#444" stroke-width="0.8"/>
<text x="440.77" y="121.6" font-family='"Liberation Sans", sans-serif' font-size="6.3" font-weight="bold" text-anchor="middle" >1.0</text>
<line x1="457" y1="114" x2="457" y2="112" stroke="#444" stroke-width="0.8"/>
<text x="457" y="121.6" font-family='"Liberation Sans", sans-serif' font-size="6.3" font-weight="bold" text-anchor="middle" >1.5</text>
<line x1="367.71" y1="114" x2="367.71" y2="112.8" stroke="#444" stroke-width="0.7"/>
<line x1="383.95" y1="114" x2="383.95" y2="112.8" stroke="#444" stroke-width="0.7"/>
<line x1="400.18" y1="114" x2="400.18" y2="112.8" stroke="#444" stroke-width="0.7"/>
<line x1="416.42" y1="114" x2="416.42" y2="112.8" stroke="#444" stroke-width="0.7"/>
<line x1="432.65" y1="114" x2="432.65" y2="112.8" stroke="#444" stroke-width="0.7"/>
<line x1="448.89" y1="114" x2="448.89" y2="112.8" stroke="#444" stroke-width="0.7"/>
<line x1="359.4" y1="108.7" x2="361.4" y2="108.7" stroke="#444" stroke-width="0.8"/>
<text x="357.5" y="110.9" font-family='"Liberation Sans", sans-serif' font-size="6.3" font-weight="bold" text-anchor="end" >0</text>
<line x1="359.4" y1="89.05" x2="361.4" y2="89.05" stroke="#444" stroke-width="0.8"/>
<text x="357.5" y="91.25" font-family='"Liberation Sans", sans-serif' font-size="6.3" font-weight="bold" text-anchor="end" >100</text>
<line x1="359.4" y1="69.4" x2="361.4" y2="69.4" stroke="#444" stroke-width="0.8"/>
<text x="357.5" y="71.6" font-family='"Liberation Sans", sans-serif' font-size="6.3" font-weight="bold" text-anchor="end" >200</text>
<line x1="359.4" y1="49.75" x2="361.4" y2="49.75" stroke="#444" stroke-width="0.8"/>
<text x="357.5" y="51.95" font-family='"Liberation Sans", sans-serif' font-size="6.3" font-weight="bold" text-anchor="end" >300</text>
<line x1="359.4" y1="98.88" x2="360.6" y2="98.88" stroke="#444" stroke-width="0.7"/>
<line x1="359.4" y1="79.22" x2="360.6" y2="79.22" stroke="#444" stroke-width="0.7"/>
<line x1="359.4" y1="59.58" x2="360.6" y2="59.58" stroke="#444" stroke-width="0.7"/>
<text x="407.4" y="131" font-family='"Liberation Sans", sans-serif' font-size="6.0" font-weight="bold" text-anchor="middle" >Voltage (V)</text>
<text transform="translate(345.3,76.6) rotate(-90)" font-family='"Liberation Sans", sans-serif' font-size="6.9" text-anchor="middle">Current density (mA/cm<tspan font-size="5.2" dy="-3.3">2</tspan><tspan dy="3.3">)</tspan></text>
<path d="M359.9,109 L361.5,109 L365.67,109 L369.84,109 L374.01,109 L378.18,109 L382.35,109 L386.52,109 L390.69,109 L394.86,109 L399.03,109 L403.2,109 L407.37,109 L411.54,109 L415.71,109 L419.88,109 L424.05,109 L428.22,109 L432.39,109 L436.56,109 L440.73,103.5 L444.9,99.6 L449.07,93.6 L453.24,87.6 L457.41,80.5" fill="none" stroke="#000" stroke-width="0.8" stroke-linejoin="round" />
<path d="M359.9,109 L361.5,109 L365.67,109 L369.84,109 L374.01,109 L378.18,109 L382.35,109 L386.52,109 L390.69,109 L394.86,109 L399.03,109 L403.2,109 L407.37,109 L411.54,109 L415.71,109 L419.88,109 L424.05,109 L428.22,109 L432.39,109 L436.56,109 L440.73,104.5 L444.9,96.9 L449.07,89.3 L453.24,81.4 L457.41,69.1" fill="none" stroke="#ff0000" stroke-width="0.8" stroke-linejoin="round" />
<path d="M359.9,108.8 L361.5,108.8 L365.67,108.8 L369.84,108.8 L374.01,108.8 L378.18,108.8 L382.35,108.8 L386.52,108.8 L390.69,108.8 L394.86,108.8 L399.03,108.8 L403.2,108.8 L407.37,108.8 L411.54,108.8 L415.71,108.8 L419.88,108.8 L424.05,108.8 L428.22,108.8 L432.39,108.8 L436.56,107.8 L440.73,102.9 L444.9,88.7 L449.07,67.5 L453.24,42.6" fill="none" stroke="#0000ff" stroke-width="0.8" stroke-linejoin="round" />
<rect x="359.85" y="107.35" width="3.3" height="3.3" fill="#fff" stroke="#000" stroke-width="0.65"/>
<rect x="364.02" y="107.35" width="3.3" height="3.3" fill="#fff" stroke="#000" stroke-width="0.65"/>
<rect x="368.19" y="107.35" width="3.3" height="3.3" fill="#fff" stroke="#000" stroke-width="0.65"/>
<rect x="372.36" y="107.35" width="3.3" height="3.3" fill="#fff" stroke="#000" stroke-width="0.65"/>
<rect x="376.53" y="107.35" width="3.3" height="3.3" fill="#fff" stroke="#000" stroke-width="0.65"/>
<rect x="380.7" y="107.35" width="3.3" height="3.3" fill="#fff" stroke="#000" stroke-width="0.65"/>
<rect x="384.87" y="107.35" width="3.3" height="3.3" fill="#fff" stroke="#000" stroke-width="0.65"/>
<rect x="389.04" y="107.35" width="3.3" height="3.3" fill="#fff" stroke="#000" stroke-width="0.65"/>
<rect x="393.21" y="107.35" width="3.3" height="3.3" fill="#fff" stroke="#000" stroke-width="0.65"/>
<rect x="397.38" y="107.35" width="3.3" height="3.3" fill="#fff" stroke="#000" stroke-width="0.65"/>
<rect x="401.55" y="107.35" width="3.3" height="3.3" fill="#fff" stroke="#000" stroke-width="0.65"/>
<rect x="405.72" y="107.35" width="3.3" height="3.3" fill="#fff" stroke="#000" stroke-width="0.65"/>
<rect x="409.89" y="107.35" width="3.3" height="3.3" fill="#fff" stroke="#000" stroke-width="0.65"/>
<rect x="414.06" y="107.35" width="3.3" height="3.3" fill="#fff" stroke="#000" stroke-width="0.65"/>
<rect x="418.23" y="107.35" width="3.3" height="3.3" fill="#fff" stroke="#000" stroke-width="0.65"/>
<rect x="422.4" y="107.35" width="3.3" height="3.3" fill="#fff" stroke="#000" stroke-width="0.65"/>
<rect x="426.57" y="107.35" width="3.3" height="3.3" fill="#fff" stroke="#000" stroke-width="0.65"/>
<rect x="430.74" y="107.35" width="3.3" height="3.3" fill="#fff" stroke="#000" stroke-width="0.65"/>
<rect x="434.91" y="107.35" width="3.3" height="3.3" fill="#fff" stroke="#000" stroke-width="0.65"/>
<rect x="439.08" y="101.85" width="3.3" height="3.3" fill="#fff" stroke="#000" stroke-width="0.65"/>
<rect x="443.25" y="97.95" width="3.3" height="3.3" fill="#fff" stroke="#000" stroke-width="0.65"/>
<rect x="447.42" y="91.95" width="3.3" height="3.3" fill="#fff" stroke="#000" stroke-width="0.65"/>
<rect x="451.59" y="85.95" width="3.3" height="3.3" fill="#fff" stroke="#000" stroke-width="0.65"/>
<rect x="455.76" y="78.85" width="3.3" height="3.3" fill="#fff" stroke="#000" stroke-width="0.65"/>
<circle cx="361.5" cy="109" r="2" fill="#fff" stroke="#ff0000" stroke-width="0.65"/>
<circle cx="365.67" cy="109" r="2" fill="#fff" stroke="#ff0000" stroke-width="0.65"/>
<circle cx="369.84" cy="109" r="2" fill="#fff" stroke="#ff0000" stroke-width="0.65"/>
<circle cx="374.01" cy="109" r="2" fill="#fff" stroke="#ff0000" stroke-width="0.65"/>
<circle cx="378.18" cy="109" r="2" fill="#fff" stroke="#ff0000" stroke-width="0.65"/>
<circle cx="382.35" cy="109" r="2" fill="#fff" stroke="#ff0000" stroke-width="0.65"/>
<circle cx="386.52" cy="109" r="2" fill="#fff" stroke="#ff0000" stroke-width="0.65"/>
<circle cx="390.69" cy="109" r="2" fill="#fff" stroke="#ff0000" stroke-width="0.65"/>
<circle cx="394.86" cy="109" r="2" fill="#fff" stroke="#ff0000" stroke-width="0.65"/>
<circle cx="399.03" cy="109" r="2" fill="#fff" stroke="#ff0000" stroke-width="0.65"/>
<circle cx="403.2" cy="109" r="2" fill="#fff" stroke="#ff0000" stroke-width="0.65"/>
<circle cx="407.37" cy="109" r="2" fill="#fff" stroke="#ff0000" stroke-width="0.65"/>
<circle cx="411.54" cy="109" r="2" fill="#fff" stroke="#ff0000" stroke-width="0.65"/>
<circle cx="415.71" cy="109" r="2" fill="#fff" stroke="#ff0000" stroke-width="0.65"/>
<circle cx="419.88" cy="109" r="2" fill="#fff" stroke="#ff0000" stroke-width="0.65"/>
<circle cx="424.05" cy="109" r="2" fill="#fff" stroke="#ff0000" stroke-width="0.65"/>
<circle cx="428.22" cy="109" r="2" fill="#fff" stroke="#ff0000" stroke-width="0.65"/>
<circle cx="432.39" cy="109" r="2" fill="#fff" stroke="#ff0000" stroke-width="0.65"/>
<circle cx="436.56" cy="109" r="2" fill="#fff" stroke="#ff0000" stroke-width="0.65"/>
<circle cx="440.73" cy="104.5" r="2" fill="#fff" stroke="#ff0000" stroke-width="0.65"/>
<circle cx="444.9" cy="96.9" r="2" fill="#fff" stroke="#ff0000" stroke-width="0.65"/>
<circle cx="449.07" cy="89.3" r="2" fill="#fff" stroke="#ff0000" stroke-width="0.65"/>
<circle cx="453.24" cy="81.4" r="2" fill="#fff" stroke="#ff0000" stroke-width="0.65"/>
<circle cx="457.41" cy="69.1" r="2" fill="#fff" stroke="#ff0000" stroke-width="0.65"/>
<polygon points="361.5,105.41 359.2,109.39 363.8,109.39" fill="#fff" stroke="#0000ff" stroke-width="0.65" stroke-linejoin="miter"/>
<polygon points="365.67,105.41 363.37,109.39 367.97,109.39" fill="#fff" stroke="#0000ff" stroke-width="0.65" stroke-linejoin="miter"/>
<polygon points="369.84,105.41 367.54,109.39 372.14,109.39" fill="#fff" stroke="#0000ff" stroke-width="0.65" stroke-linejoin="miter"/>
<polygon points="374.01,105.41 371.71,109.39 376.31,109.39" fill="#fff" stroke="#0000ff" stroke-width="0.65" stroke-linejoin="miter"/>
<polygon points="378.18,105.41 375.88,109.39 380.48,109.39" fill="#fff" stroke="#0000ff" stroke-width="0.65" stroke-linejoin="miter"/>
<polygon points="382.35,105.41 380.05,109.39 384.65,109.39" fill="#fff" stroke="#0000ff" stroke-width="0.65" stroke-linejoin="miter"/>
<polygon points="386.52,105.41 384.22,109.39 388.82,109.39" fill="#fff" stroke="#0000ff" stroke-width="0.65" stroke-linejoin="miter"/>
<polygon points="390.69,105.41 388.39,109.39 392.99,109.39" fill="#fff" stroke="#0000ff" stroke-width="0.65" stroke-linejoin="miter"/>
<polygon points="394.86,105.41 392.56,109.39 397.16,109.39" fill="#fff" stroke="#0000ff" stroke-width="0.65" stroke-linejoin="miter"/>
<polygon points="399.03,105.41 396.73,109.39 401.33,109.39" fill="#fff" stroke="#0000ff" stroke-width="0.65" stroke-linejoin="miter"/>
<polygon points="403.2,105.41 400.9,109.39 405.5,109.39" fill="#fff" stroke="#0000ff" stroke-width="0.65" stroke-linejoin="miter"/>
<polygon points="407.37,105.41 405.07,109.39 409.67,109.39" fill="#fff" stroke="#0000ff" stroke-width="0.65" stroke-linejoin="miter"/>
<polygon points="411.54,105.41 409.24,109.39 413.84,109.39" fill="#fff" stroke="#0000ff" stroke-width="0.65" stroke-linejoin="miter"/>
<polygon points="415.71,105.41 413.41,109.39 418.01,109.39" fill="#fff" stroke="#0000ff" stroke-width="0.65" stroke-linejoin="miter"/>
<polygon points="419.88,105.41 417.58,109.39 422.18,109.39" fill="#fff" stroke="#0000ff" stroke-width="0.65" stroke-linejoin="miter"/>
<polygon points="424.05,105.41 421.75,109.39 426.35,109.39" fill="#fff" stroke="#0000ff" stroke-width="0.65" stroke-linejoin="miter"/>
<polygon points="428.22,105.41 425.92,109.39 430.52,109.39" fill="#fff" stroke="#0000ff" stroke-width="0.65" stroke-linejoin="miter"/>
<polygon points="432.39,105.41 430.09,109.39 434.69,109.39" fill="#fff" stroke="#0000ff" stroke-width="0.65" stroke-linejoin="miter"/>
<polygon points="436.56,105.41 434.26,109.39 438.86,109.39" fill="#fff" stroke="#0000ff" stroke-width="0.65" stroke-linejoin="miter"/>
<polygon points="440.73,100.51 438.43,104.49 443.03,104.49" fill="#fff" stroke="#0000ff" stroke-width="0.65" stroke-linejoin="miter"/>
<polygon points="444.9,86.31 442.6,90.29 447.2,90.29" fill="#fff" stroke="#0000ff" stroke-width="0.65" stroke-linejoin="miter"/>
<polygon points="449.07,65.11 446.77,69.09 451.37,69.09" fill="#fff" stroke="#0000ff" stroke-width="0.65" stroke-linejoin="miter"/>
<polygon points="453.24,40.21 450.94,44.19 455.54,44.19" fill="#fff" stroke="#0000ff" stroke-width="0.65" stroke-linejoin="miter"/>
<line x1="365.7" y1="50.6" x2="386.8" y2="50.6" stroke="#000" stroke-width="1.1"/>
<rect x="374.9" y="49" width="3.2" height="3.2" fill="#000" stroke="#000" stroke-width="0.4"/>
<text x="389.9" y="54.4" font-family='"Liberation Sans", sans-serif' font-size="10.9" font-weight="bold" text-anchor="start" >Al</text>
<line x1="365.7" y1="64.5" x2="386.8" y2="64.5" stroke="#ff0000" stroke-width="1.1"/>
<circle cx="376.5" cy="64.5" r="2" fill="#ff0000" stroke="#ff0000" stroke-width="0.4"/>
<text x="389.9" y="68.3" font-family='"Liberation Sans", sans-serif' font-size="10.9" font-weight="bold" text-anchor="start" >Ca/Al</text>
<line x1="365.7" y1="78.4" x2="386.8" y2="78.4" stroke="#0000ff" stroke-width="1.1"/>
<polygon points="376.5,76.01 374.2,79.99 378.8,79.99" fill="#0000ff" stroke="#0000ff" stroke-width="0.4" stroke-linejoin="miter"/>
<text x="389.9" y="82.2" font-family='"Liberation Sans", sans-serif' font-size="10.9" font-weight="bold" text-anchor="start" >ZrIPO/Al</text>
<path d="M45.2,406 C46.67,400.25 51.08,383.05 54.02,371.5 C56.96,359.95 59.9,344.77 62.84,336.7 C65.78,328.63 68.72,325.62 71.66,323.1 C74.6,320.58 77.54,322.15 80.48,321.6 C83.42,321.05 86.36,321.65 89.3,319.8 C92.24,317.95 95.18,313.5 98.12,310.5 C101.06,307.5 104,303.68 106.94,301.8 C109.88,299.92 112.82,299.93 115.76,299.2 C118.7,298.47 121.64,298.35 124.58,297.4 C127.52,296.45 130.46,295.12 133.4,293.5 C136.34,291.88 139.28,289.33 142.22,287.7 C145.16,286.07 148.1,284.75 151.04,283.7 C153.98,282.65 156.92,281.07 159.86,281.4 C162.8,281.73 165.74,284.5 168.68,285.7 C171.62,286.9 174.56,285.88 177.5,288.6 C180.44,291.32 183.38,289.6 186.32,302 C189.26,314.4 192.2,346.33 195.14,363 C198.08,379.67 201.02,394.92 203.96,402 C206.9,409.08 209.84,404.75 212.78,405.5 C215.72,406.25 218.66,406.17 221.6,406.5 C224.54,406.83 227.48,407.2 230.42,407.5 C233.36,407.8 236.3,408.08 239.24,408.3 C242.18,408.52 245.12,408.65 248.06,408.8 C251,408.95 253.94,409.08 256.88,409.2 C259.82,409.32 264.23,409.45 265.7,409.5" fill="none" stroke="#000" stroke-width="1.45" stroke-linejoin="round" />
<rect x="43.7" y="404.5" width="3" height="3" fill="#000" stroke="#000" stroke-width="0.5"/>
<rect x="52.52" y="370" width="3" height="3" fill="#000" stroke="#000" stroke-width="0.5"/>
<rect x="61.34" y="335.2" width="3" height="3" fill="#000" stroke="#000" stroke-width="0.5"/>
<rect x="70.16" y="321.6" width="3" height="3" fill="#000" stroke="#000" stroke-width="0.5"/>
<rect x="78.98" y="320.1" width="3" height="3" fill="#000" stroke="#000" stroke-width="0.5"/>
<rect x="87.8" y="318.3" width="3" height="3" fill="#000" stroke="#000" stroke-width="0.5"/>
<rect x="96.62" y="309" width="3" height="3" fill="#000" stroke="#000" stroke-width="0.5"/>
<rect x="105.44" y="300.3" width="3" height="3" fill="#000" stroke="#000" stroke-width="0.5"/>
<rect x="114.26" y="297.7" width="3" height="3" fill="#000" stroke="#000" stroke-width="0.5"/>
<rect x="123.08" y="295.9" width="3" height="3" fill="#000" stroke="#000" stroke-width="0.5"/>
<rect x="131.9" y="292" width="3" height="3" fill="#000" stroke="#000" stroke-width="0.5"/>
<rect x="140.72" y="286.2" width="3" height="3" fill="#000" stroke="#000" stroke-width="0.5"/>
<rect x="149.54" y="282.2" width="3" height="3" fill="#000" stroke="#000" stroke-width="0.5"/>
<rect x="158.36" y="279.9" width="3" height="3" fill="#000" stroke="#000" stroke-width="0.5"/>
<rect x="167.18" y="284.2" width="3" height="3" fill="#000" stroke="#000" stroke-width="0.5"/>
<rect x="176" y="287.1" width="3" height="3" fill="#000" stroke="#000" stroke-width="0.5"/>
<rect x="184.82" y="300.5" width="3" height="3" fill="#000" stroke="#000" stroke-width="0.5"/>
<rect x="193.64" y="361.5" width="3" height="3" fill="#000" stroke="#000" stroke-width="0.5"/>
<rect x="202.46" y="400.5" width="3" height="3" fill="#000" stroke="#000" stroke-width="0.5"/>
<rect x="211.28" y="404" width="3" height="3" fill="#000" stroke="#000" stroke-width="0.5"/>
<rect x="220.1" y="405" width="3" height="3" fill="#000" stroke="#000" stroke-width="0.5"/>
<rect x="228.92" y="406" width="3" height="3" fill="#000" stroke="#000" stroke-width="0.5"/>
<rect x="237.74" y="406.8" width="3" height="3" fill="#000" stroke="#000" stroke-width="0.5"/>
<rect x="246.56" y="407.3" width="3" height="3" fill="#000" stroke="#000" stroke-width="0.5"/>
<rect x="255.38" y="407.7" width="3" height="3" fill="#000" stroke="#000" stroke-width="0.5"/>
<rect x="264.2" y="408" width="3" height="3" fill="#000" stroke="#000" stroke-width="0.5"/>
<path d="M45.2,407 C46.67,401.67 51.08,388.27 54.02,375 C56.96,361.73 59.9,337.42 62.84,327.4 C65.78,317.38 68.72,317.05 71.66,314.9 C74.6,312.75 77.54,315 80.48,314.5 C83.42,314 86.36,313.28 89.3,311.9 C92.24,310.52 95.18,308.8 98.12,306.2 C101.06,303.6 104,298.33 106.94,296.3 C109.88,294.27 112.82,294.92 115.76,294 C118.7,293.08 121.64,292.13 124.58,290.8 C127.52,289.47 130.46,287.55 133.4,286 C136.34,284.45 139.28,282.5 142.22,281.5 C145.16,280.5 148.1,280.35 151.04,280 C153.98,279.65 156.92,277.87 159.86,279.4 C162.8,280.93 165.74,286.85 168.68,289.2 C171.62,291.55 174.56,290.15 177.5,293.5 C180.44,296.85 183.38,296.98 186.32,309.3 C189.26,321.62 192.2,352.12 195.14,367.4 C198.08,382.68 201.02,394.65 203.96,401 C206.9,407.35 209.84,404.58 212.78,405.5 C215.72,406.42 218.66,406.22 221.6,406.5 C224.54,406.78 227.48,406.95 230.42,407.2 C233.36,407.45 236.3,407.78 239.24,408 C242.18,408.22 245.12,408.33 248.06,408.5 C251,408.67 253.94,408.87 256.88,409 C259.82,409.13 264.23,409.25 265.7,409.3" fill="none" stroke="#ff0000" stroke-width="1.45" stroke-linejoin="round" />
<circle cx="45.2" cy="407" r="1.9" fill="#ff0000" stroke="#ff0000" stroke-width="0.5"/>
<circle cx="54.02" cy="375" r="1.9" fill="#ff0000" stroke="#ff0000" stroke-width="0.5"/>
<circle cx="62.84" cy="327.4" r="1.9" fill="#ff0000" stroke="#ff0000" stroke-width="0.5"/>
<circle cx="71.66" cy="314.9" r="1.9" fill="#ff0000" stroke="#ff0000" stroke-width="0.5"/>
<circle cx="80.48" cy="314.5" r="1.9" fill="#ff0000" stroke="#ff0000" stroke-width="0.5"/>
<circle cx="89.3" cy="311.9" r="1.9" fill="#ff0000" stroke="#ff0000" stroke-width="0.5"/>
<circle cx="98.12" cy="306.2" r="1.9" fill="#ff0000" stroke="#ff0000" stroke-width="0.5"/>
<circle cx="106.94" cy="296.3" r="1.9" fill="#ff0000" stroke="#ff0000" stroke-width="0.5"/>
<circle cx="115.76" cy="294" r="1.9" fill="#ff0000" stroke="#ff0000" stroke-width="0.5"/>
<circle cx="124.58" cy="290.8" r="1.9" fill="#ff0000" stroke="#ff0000" stroke-width="0.5"/>
<circle cx="133.4" cy="286" r="1.9" fill="#ff0000" stroke="#ff0000" stroke-width="0.5"/>
<circle cx="142.22" cy="281.5" r="1.9" fill="#ff0000" stroke="#ff0000" stroke-width="0.5"/>
<circle cx="151.04" cy="280" r="1.9" fill="#ff0000" stroke="#ff0000" stroke-width="0.5"/>
<circle cx="159.86" cy="279.4" r="1.9" fill="#ff0000" stroke="#ff0000" stroke-width="0.5"/>
<circle cx="168.68" cy="289.2" r="1.9" fill="#ff0000" stroke="#ff0000" stroke-width="0.5"/>
<circle cx="177.5" cy="293.5" r="1.9" fill="#ff0000" stroke="#ff0000" stroke-width="0.5"/>
<circle cx="186.32" cy="309.3" r="1.9" fill="#ff0000" stroke="#ff0000" stroke-width="0.5"/>
<circle cx="195.14" cy="367.4" r="1.9" fill="#ff0000" stroke="#ff0000" stroke-width="0.5"/>
<circle cx="203.96" cy="401" r="1.9" fill="#ff0000" stroke="#ff0000" stroke-width="0.5"/>
<circle cx="212.78" cy="405.5" r="1.9" fill="#ff0000" stroke="#ff0000" stroke-width="0.5"/>
<circle cx="221.6" cy="406.5" r="1.9" fill="#ff0000" stroke="#ff0000" stroke-width="0.5"/>
<circle cx="230.42" cy="407.2" r="1.9" fill="#ff0000" stroke="#ff0000" stroke-width="0.5"/>
<circle cx="239.24" cy="408" r="1.9" fill="#ff0000" stroke="#ff0000" stroke-width="0.5"/>
<circle cx="248.06" cy="408.5" r="1.9" fill="#ff0000" stroke="#ff0000" stroke-width="0.5"/>
<circle cx="256.88" cy="409" r="1.9" fill="#ff0000" stroke="#ff0000" stroke-width="0.5"/>
<circle cx="265.7" cy="409.3" r="1.9" fill="#ff0000" stroke="#ff0000" stroke-width="0.5"/>
<path d="M45.2,405 C46.67,398.67 51.08,380.15 54.02,367 C56.96,353.85 59.9,335.43 62.84,326.1 C65.78,316.77 68.72,314.25 71.66,311 C74.6,307.75 77.54,307.18 80.48,306.6 C83.42,306.02 86.36,308.23 89.3,307.5 C92.24,306.77 95.18,304.98 98.12,302.2 C101.06,299.42 104,294.07 106.94,290.8 C109.88,287.53 112.82,284.32 115.76,282.6 C118.7,280.88 121.64,281.37 124.58,280.5 C127.52,279.63 130.46,278.77 133.4,277.4 C136.34,276.03 139.28,273.7 142.22,272.3 C145.16,270.9 148.1,269.82 151.04,269 C153.98,268.18 156.92,266.8 159.86,267.4 C162.8,268 165.74,271.03 168.68,272.6 C171.62,274.17 174.56,273.4 177.5,276.8 C180.44,280.2 183.38,279.12 186.32,293 C189.26,306.88 192.2,342.6 195.14,360.1 C198.08,377.6 201.02,390.6 203.96,398 C206.9,405.4 209.84,403.3 212.78,404.5 C215.72,405.7 218.66,404.75 221.6,405.2 C224.54,405.65 227.48,406.72 230.42,407.2 C233.36,407.68 236.3,407.95 239.24,408.1 C242.18,408.25 245.12,408.1 248.06,408.1 C251,408.1 253.94,408.03 256.88,408.1 C259.82,408.17 264.23,408.43 265.7,408.5" fill="none" stroke="#0000ff" stroke-width="1.45" stroke-linejoin="round" />
<polygon points="45.2,402.71 43,406.52 47.4,406.52" fill="#0000ff" stroke="#0000ff" stroke-width="0.5" stroke-linejoin="miter"/>
<polygon points="54.02,364.71 51.82,368.52 56.22,368.52" fill="#0000ff" stroke="#0000ff" stroke-width="0.5" stroke-linejoin="miter"/>
<polygon points="62.84,323.81 60.64,327.62 65.04,327.62" fill="#0000ff" stroke="#0000ff" stroke-width="0.5" stroke-linejoin="miter"/>
<polygon points="71.66,308.71 69.46,312.52 73.86,312.52" fill="#0000ff" stroke="#0000ff" stroke-width="0.5" stroke-linejoin="miter"/>
<polygon points="80.48,304.31 78.28,308.12 82.68,308.12" fill="#0000ff" stroke="#0000ff" stroke-width="0.5" stroke-linejoin="miter"/>
<polygon points="89.3,305.21 87.1,309.02 91.5,309.02" fill="#0000ff" stroke="#0000ff" stroke-width="0.5" stroke-linejoin="miter"/>
<polygon points="98.12,299.91 95.92,303.72 100.32,303.72" fill="#0000ff" stroke="#0000ff" stroke-width="0.5" stroke-linejoin="miter"/>
<polygon points="106.94,288.51 104.74,292.32 109.14,292.32" fill="#0000ff" stroke="#0000ff" stroke-width="0.5" stroke-linejoin="miter"/>
<polygon points="115.76,280.31 113.56,284.12 117.96,284.12" fill="#0000ff" stroke="#0000ff" stroke-width="0.5" stroke-linejoin="miter"/>
<polygon points="124.58,278.21 122.38,282.02 126.78,282.02" fill="#0000ff" stroke="#0000ff" stroke-width="0.5" stroke-linejoin="miter"/>
<polygon points="133.4,275.11 131.2,278.92 135.6,278.92" fill="#0000ff" stroke="#0000ff" stroke-width="0.5" stroke-linejoin="miter"/>
<polygon points="142.22,270.01 140.02,273.82 144.42,273.82" fill="#0000ff" stroke="#0000ff" stroke-width="0.5" stroke-linejoin="miter"/>
<polygon points="151.04,266.71 148.84,270.52 153.24,270.52" fill="#0000ff" stroke="#0000ff" stroke-width="0.5" stroke-linejoin="miter"/>
<polygon points="159.86,265.11 157.66,268.92 162.06,268.92" fill="#0000ff" stroke="#0000ff" stroke-width="0.5" stroke-linejoin="miter"/>
<polygon points="168.68,270.31 166.48,274.12 170.88,274.12" fill="#0000ff" stroke="#0000ff" stroke-width="0.5" stroke-linejoin="miter"/>
<polygon points="177.5,274.51 175.3,278.32 179.7,278.32" fill="#0000ff" stroke="#0000ff" stroke-width="0.5" stroke-linejoin="miter"/>
<polygon points="186.32,290.71 184.12,294.52 188.52,294.52" fill="#0000ff" stroke="#0000ff" stroke-width="0.5" stroke-linejoin="miter"/>
<polygon points="195.14,357.81 192.94,361.62 197.34,361.62" fill="#0000ff" stroke="#0000ff" stroke-width="0.5" stroke-linejoin="miter"/>
<polygon points="203.96,395.71 201.76,399.52 206.16,399.52" fill="#0000ff" stroke="#0000ff" stroke-width="0.5" stroke-linejoin="miter"/>
<polygon points="212.78,402.21 210.58,406.02 214.98,406.02" fill="#0000ff" stroke="#0000ff" stroke-width="0.5" stroke-linejoin="miter"/>
<polygon points="221.6,402.91 219.4,406.72 223.8,406.72" fill="#0000ff" stroke="#0000ff" stroke-width="0.5" stroke-linejoin="miter"/>
<polygon points="230.42,404.91 228.22,408.72 232.62,408.72" fill="#0000ff" stroke="#0000ff" stroke-width="0.5" stroke-linejoin="miter"/>
<polygon points="239.24,405.81 237.04,409.62 241.44,409.62" fill="#0000ff" stroke="#0000ff" stroke-width="0.5" stroke-linejoin="miter"/>
<polygon points="248.06,405.81 245.86,409.62 250.26,409.62" fill="#0000ff" stroke="#0000ff" stroke-width="0.5" stroke-linejoin="miter"/>
<polygon points="256.88,405.81 254.68,409.62 259.08,409.62" fill="#0000ff" stroke="#0000ff" stroke-width="0.5" stroke-linejoin="miter"/>
<polygon points="265.7,406.21 263.5,410.02 267.9,410.02" fill="#0000ff" stroke="#0000ff" stroke-width="0.5" stroke-linejoin="miter"/>
<rect x="45.2" y="232" width="220.5" height="178.2" fill="none" stroke="#000" stroke-width="1.6"/>
<line x1="45.2" y1="410.2" x2="45.2" y2="406.7" stroke="#000" stroke-width="1.2"/>
<line x1="89.3" y1="410.2" x2="89.3" y2="406.7" stroke="#000" stroke-width="1.2"/>
<line x1="133.4" y1="410.2" x2="133.4" y2="406.7" stroke="#000" stroke-width="1.2"/>
<line x1="177.5" y1="410.2" x2="177.5" y2="406.7" stroke="#000" stroke-width="1.2"/>
<line x1="221.6" y1="410.2" x2="221.6" y2="406.7" stroke="#000" stroke-width="1.2"/>
<line x1="265.7" y1="410.2" x2="265.7" y2="406.7" stroke="#000" stroke-width="1.2"/>
<line x1="67.25" y1="410.2" x2="67.25" y2="408.2" stroke="#000" stroke-width="1.1"/>
<line x1="111.35" y1="410.2" x2="111.35" y2="408.2" stroke="#000" stroke-width="1.1"/>
<line x1="155.45" y1="410.2" x2="155.45" y2="408.2" stroke="#000" stroke-width="1.1"/>
<line x1="199.55" y1="410.2" x2="199.55" y2="408.2" stroke="#000" stroke-width="1.1"/>
<line x1="243.65" y1="410.2" x2="243.65" y2="408.2" stroke="#000" stroke-width="1.1"/>
<line x1="45.2" y1="410.2" x2="48.7" y2="410.2" stroke="#000" stroke-width="1.2"/>
<line x1="45.2" y1="365.65" x2="48.7" y2="365.65" stroke="#000" stroke-width="1.2"/>
<line x1="45.2" y1="321.1" x2="48.7" y2="321.1" stroke="#000" stroke-width="1.2"/>
<line x1="45.2" y1="276.55" x2="48.7" y2="276.55" stroke="#000" stroke-width="1.2"/>
<line x1="45.2" y1="232" x2="48.7" y2="232" stroke="#000" stroke-width="1.2"/>
<line x1="45.2" y1="387.93" x2="47.2" y2="387.93" stroke="#000" stroke-width="1.1"/>
<line x1="45.2" y1="343.38" x2="47.2" y2="343.38" stroke="#000" stroke-width="1.1"/>
<line x1="45.2" y1="298.82" x2="47.2" y2="298.82" stroke="#000" stroke-width="1.1"/>
<line x1="45.2" y1="254.27" x2="47.2" y2="254.27" stroke="#000" stroke-width="1.1"/>
<text x="45.2" y="422.4" font-family='"Liberation Sans", sans-serif' font-size="10.6" font-weight="bold" text-anchor="middle" >300</text>
<text x="89.3" y="422.4" font-family='"Liberation Sans", sans-serif' font-size="10.6" font-weight="bold" text-anchor="middle" >400</text>
<text x="133.4" y="422.4" font-family='"Liberation Sans", sans-serif' font-size="10.6" font-weight="bold" text-anchor="middle" >500</text>
<text x="177.5" y="422.4" font-family='"Liberation Sans", sans-serif' font-size="10.6" font-weight="bold" text-anchor="middle" >600</text>
<text x="221.6" y="422.4" font-family='"Liberation Sans", sans-serif' font-size="10.6" font-weight="bold" text-anchor="middle" >700</text>
<text x="265.7" y="422.4" font-family='"Liberation Sans", sans-serif' font-size="10.6" font-weight="bold" text-anchor="middle" >800</text>
<text x="40.8" y="413.9" font-family='"Liberation Sans", sans-serif' font-size="10.5" font-weight="bold" text-anchor="end" >0</text>
<text x="40.8" y="369.35" font-family='"Liberation Sans", sans-serif' font-size="10.5" font-weight="bold" text-anchor="end" >20</text>
<text x="40.8" y="324.8" font-family='"Liberation Sans", sans-serif' font-size="10.5" font-weight="bold" text-anchor="end" >40</text>
<text x="40.8" y="280.25" font-family='"Liberation Sans", sans-serif' font-size="10.5" font-weight="bold" text-anchor="end" >60</text>
<text x="40.8" y="235.7" font-family='"Liberation Sans", sans-serif' font-size="10.5" font-weight="bold" text-anchor="end" >80</text>
<text x="155.5" y="445" font-family='"Liberation Sans", sans-serif' font-size="15" font-weight="bold" text-anchor="middle" >Wavelength (nm)</text>
<text transform="translate(15.7,315.7) rotate(-90)" font-family='"Liberation Sans", sans-serif' font-size="14.9" font-weight="bold" text-anchor="middle">IPCE (%)</text>
<text x="54.4" y="244.4" font-family='"Liberation Serif", serif' font-size="10" font-weight="bold" text-anchor="middle" >(c)</text>
<text x="67.2" y="245.6" font-family='"Liberation Sans", sans-serif' font-size="11.5" font-weight="bold" text-anchor="start" >P3HT:PCBM</text>
<line x1="90.2" y1="356.6" x2="111.3" y2="356.6" stroke="#000" stroke-width="1.2"/>
<rect x="99.25" y="355.05" width="3.1" height="3.1" fill="#000" stroke="#000" stroke-width="0.4"/>
<text x="114.5" y="360.3" font-family='"Liberation Sans", sans-serif' font-size="10.7" font-weight="bold" text-anchor="start" >Al</text>
<line x1="90.2" y1="370.5" x2="111.3" y2="370.5" stroke="#ff0000" stroke-width="1.2"/>
<circle cx="100.8" cy="370.5" r="1.9" fill="#ff0000" stroke="#ff0000" stroke-width="0.4"/>
<text x="114.5" y="374.2" font-family='"Liberation Sans", sans-serif' font-size="10.7" font-weight="bold" text-anchor="start" >Ca</text>
<line x1="90.2" y1="384" x2="111.3" y2="384" stroke="#0000ff" stroke-width="1.2"/>
<polygon points="100.8,381.77 98.65,385.49 102.95,385.49" fill="#0000ff" stroke="#0000ff" stroke-width="0.4" stroke-linejoin="miter"/>
<text x="114.5" y="387.7" font-family='"Liberation Sans", sans-serif' font-size="10.7" font-weight="bold" text-anchor="start" >ZrIPO</text>
<path d="M317.8,407 C318.9,402.25 322.21,390.52 324.41,378.5 C326.61,366.48 328.81,345.45 331.01,334.9 C333.22,324.35 335.42,319.92 337.62,315.2 C339.82,310.48 342.03,309.07 344.23,306.6 C346.43,304.13 348.64,299.42 350.84,300.4 C353.04,301.38 355.24,308.43 357.44,312.5 C359.65,316.57 361.85,321.85 364.05,324.8 C366.25,327.75 368.46,329.03 370.66,330.2 C372.86,331.37 375.07,332.17 377.27,331.8 C379.47,331.43 381.67,330.22 383.88,328 C386.08,325.78 388.28,321.83 390.48,318.5 C392.69,315.17 394.89,311.47 397.09,308 C399.29,304.53 401.5,301.02 403.7,297.7 C405.9,294.38 408.1,289.92 410.31,288.1 C412.51,286.28 414.71,287.18 416.91,286.8 C419.12,286.42 421.32,286.3 423.52,285.8 C425.72,285.3 427.93,284.53 430.13,283.8 C432.33,283.07 434.53,281.9 436.74,281.4 C438.94,280.9 441.14,280.47 443.34,280.8 C445.55,281.13 447.75,282.9 449.95,283.4 C452.15,283.9 454.36,283.57 456.56,283.8 C458.76,284.03 460.96,282.9 463.17,284.8 C465.37,286.7 467.57,287.67 469.77,295.2 C471.98,302.73 474.18,317.53 476.38,330 C478.58,342.47 480.79,359.17 482.99,370 C485.19,380.83 487.39,389.42 489.6,395 C491.8,400.58 494,401.5 496.2,403.5 C498.4,405.5 500.61,406.17 502.81,407 C505.01,407.83 507.22,408.08 509.42,408.5 C511.62,408.92 513.82,409.28 516.02,409.5 C518.23,409.72 520.43,409.72 522.63,409.8 C524.84,409.88 527.04,409.97 529.24,410 C531.44,410.03 534.75,410 535.85,410" fill="none" stroke="#000" stroke-width="1.45" stroke-linejoin="round" />
<rect x="316.3" y="405.5" width="3" height="3" fill="#000" stroke="#000" stroke-width="0.5"/>
<rect x="322.91" y="377" width="3" height="3" fill="#000" stroke="#000" stroke-width="0.5"/>
<rect x="329.51" y="333.4" width="3" height="3" fill="#000" stroke="#000" stroke-width="0.5"/>
<rect x="336.12" y="313.7" width="3" height="3" fill="#000" stroke="#000" stroke-width="0.5"/>
<rect x="342.73" y="305.1" width="3" height="3" fill="#000" stroke="#000" stroke-width="0.5"/>
<rect x="349.34" y="298.9" width="3" height="3" fill="#000" stroke="#000" stroke-width="0.5"/>
<rect x="355.94" y="311" width="3" height="3" fill="#000" stroke="#000" stroke-width="0.5"/>
<rect x="362.55" y="323.3" width="3" height="3" fill="#000" stroke="#000" stroke-width="0.5"/>
<rect x="369.16" y="328.7" width="3" height="3" fill="#000" stroke="#000" stroke-width="0.5"/>
<rect x="375.77" y="330.3" width="3" height="3" fill="#000" stroke="#000" stroke-width="0.5"/>
<rect x="382.38" y="326.5" width="3" height="3" fill="#000" stroke="#000" stroke-width="0.5"/>
<rect x="388.98" y="317" width="3" height="3" fill="#000" stroke="#000" stroke-width="0.5"/>
<rect x="395.59" y="306.5" width="3" height="3" fill="#000" stroke="#000" stroke-width="0.5"/>
<rect x="402.2" y="296.2" width="3" height="3" fill="#000" stroke="#000" stroke-width="0.5"/>
<rect x="408.81" y="286.6" width="3" height="3" fill="#000" stroke="#000" stroke-width="0.5"/>
<rect x="415.41" y="285.3" width="3" height="3" fill="#000" stroke="#000" stroke-width="0.5"/>
<rect x="422.02" y="284.3" width="3" height="3" fill="#000" stroke="#000" stroke-width="0.5"/>
<rect x="428.63" y="282.3" width="3" height="3" fill="#000" stroke="#000" stroke-width="0.5"/>
<rect x="435.24" y="279.9" width="3" height="3" fill="#000" stroke="#000" stroke-width="0.5"/>
<rect x="441.84" y="279.3" width="3" height="3" fill="#000" stroke="#000" stroke-width="0.5"/>
<rect x="448.45" y="281.9" width="3" height="3" fill="#000" stroke="#000" stroke-width="0.5"/>
<rect x="455.06" y="282.3" width="3" height="3" fill="#000" stroke="#000" stroke-width="0.5"/>
<rect x="461.67" y="283.3" width="3" height="3" fill="#000" stroke="#000" stroke-width="0.5"/>
<rect x="468.27" y="293.7" width="3" height="3" fill="#000" stroke="#000" stroke-width="0.5"/>
<rect x="474.88" y="328.5" width="3" height="3" fill="#000" stroke="#000" stroke-width="0.5"/>
<rect x="481.49" y="368.5" width="3" height="3" fill="#000" stroke="#000" stroke-width="0.5"/>
<rect x="488.1" y="393.5" width="3" height="3" fill="#000" stroke="#000" stroke-width="0.5"/>
<rect x="494.7" y="402" width="3" height="3" fill="#000" stroke="#000" stroke-width="0.5"/>
<rect x="501.31" y="405.5" width="3" height="3" fill="#000" stroke="#000" stroke-width="0.5"/>
<rect x="507.92" y="407" width="3" height="3" fill="#000" stroke="#000" stroke-width="0.5"/>
<rect x="514.52" y="408" width="3" height="3" fill="#000" stroke="#000" stroke-width="0.5"/>
<rect x="521.13" y="408.3" width="3" height="3" fill="#000" stroke="#000" stroke-width="0.5"/>
<rect x="527.74" y="408.5" width="3" height="3" fill="#000" stroke="#000" stroke-width="0.5"/>
<rect x="534.35" y="408.5" width="3" height="3" fill="#000" stroke="#000" stroke-width="0.5"/>
<path d="M317.8,407 C318.9,401.83 322.21,388.8 324.41,376 C326.61,363.2 328.81,343.12 331.01,330.2 C333.22,317.28 335.42,304.6 337.62,298.5 C339.82,292.4 342.03,294.42 344.23,293.6 C346.43,292.78 348.64,291.87 350.84,293.6 C353.04,295.33 355.24,300.28 357.44,304 C359.65,307.72 361.85,312.25 364.05,315.9 C366.25,319.55 368.46,323.13 370.66,325.9 C372.86,328.67 375.07,330.97 377.27,332.5 C379.47,334.03 381.67,335.6 383.88,335.1 C386.08,334.6 388.28,331.93 390.48,329.5 C392.69,327.07 394.89,324.15 397.09,320.5 C399.29,316.85 401.5,312.23 403.7,307.6 C405.9,302.97 408.1,297.4 410.31,292.7 C412.51,288 414.71,283.2 416.91,279.4 C419.12,275.6 421.32,272.75 423.52,269.9 C425.72,267.05 427.93,264.13 430.13,262.3 C432.33,260.47 434.53,259.13 436.74,258.9 C438.94,258.67 441.14,259.57 443.34,260.9 C445.55,262.23 447.75,265.57 449.95,266.9 C452.15,268.23 454.36,267.75 456.56,268.9 C458.76,270.05 460.96,269.67 463.17,273.8 C465.37,277.93 467.57,284.25 469.77,293.7 C471.98,303.15 474.18,317.65 476.38,330.5 C478.58,343.35 480.79,360.05 482.99,370.8 C485.19,381.55 487.39,389.55 489.6,395 C491.8,400.45 494,401.5 496.2,403.5 C498.4,405.5 500.61,406.17 502.81,407 C505.01,407.83 507.22,408.08 509.42,408.5 C511.62,408.92 513.82,409.28 516.02,409.5 C518.23,409.72 520.43,409.72 522.63,409.8 C524.84,409.88 527.04,409.97 529.24,410 C531.44,410.03 534.75,410 535.85,410" fill="none" stroke="#ff0000" stroke-width="1.45" stroke-linejoin="round" />
<circle cx="317.8" cy="407" r="1.9" fill="#ff0000" stroke="#ff0000" stroke-width="0.5"/>
<circle cx="324.41" cy="376" r="1.9" fill="#ff0000" stroke="#ff0000" stroke-width="0.5"/>
<circle cx="331.01" cy="330.2" r="1.9" fill="#ff0000" stroke="#ff0000" stroke-width="0.5"/>
<circle cx="337.62" cy="298.5" r="1.9" fill="#ff0000" stroke="#ff0000" stroke-width="0.5"/>
<circle cx="344.23" cy="293.6" r="1.9" fill="#ff0000" stroke="#ff0000" stroke-width="0.5"/>
<circle cx="350.84" cy="293.6" r="1.9" fill="#ff0000" stroke="#ff0000" stroke-width="0.5"/>
<circle cx="357.44" cy="304" r="1.9" fill="#ff0000" stroke="#ff0000" stroke-width="0.5"/>
<circle cx="364.05" cy="315.9" r="1.9" fill="#ff0000" stroke="#ff0000" stroke-width="0.5"/>
<circle cx="370.66" cy="325.9" r="1.9" fill="#ff0000" stroke="#ff0000" stroke-width="0.5"/>
<circle cx="377.27" cy="332.5" r="1.9" fill="#ff0000" stroke="#ff0000" stroke-width="0.5"/>
<circle cx="383.88" cy="335.1" r="1.9" fill="#ff0000" stroke="#ff0000" stroke-width="0.5"/>
<circle cx="390.48" cy="329.5" r="1.9" fill="#ff0000" stroke="#ff0000" stroke-width="0.5"/>
<circle cx="397.09" cy="320.5" r="1.9" fill="#ff0000" stroke="#ff0000" stroke-width="0.5"/>
<circle cx="403.7" cy="307.6" r="1.9" fill="#ff0000" stroke="#ff0000" stroke-width="0.5"/>
<circle cx="410.31" cy="292.7" r="1.9" fill="#ff0000" stroke="#ff0000" stroke-width="0.5"/>
<circle cx="416.91" cy="279.4" r="1.9" fill="#ff0000" stroke="#ff0000" stroke-width="0.5"/>
<circle cx="423.52" cy="269.9" r="1.9" fill="#ff0000" stroke="#ff0000" stroke-width="0.5"/>
<circle cx="430.13" cy="262.3" r="1.9" fill="#ff0000" stroke="#ff0000" stroke-width="0.5"/>
<circle cx="436.74" cy="258.9" r="1.9" fill="#ff0000" stroke="#ff0000" stroke-width="0.5"/>
<circle cx="443.34" cy="260.9" r="1.9" fill="#ff0000" stroke="#ff0000" stroke-width="0.5"/>
<circle cx="449.95" cy="266.9" r="1.9" fill="#ff0000" stroke="#ff0000" stroke-width="0.5"/>
<circle cx="456.56" cy="268.9" r="1.9" fill="#ff0000" stroke="#ff0000" stroke-width="0.5"/>
<circle cx="463.17" cy="273.8" r="1.9" fill="#ff0000" stroke="#ff0000" stroke-width="0.5"/>
<circle cx="469.77" cy="293.7" r="1.9" fill="#ff0000" stroke="#ff0000" stroke-width="0.5"/>
<circle cx="476.38" cy="330.5" r="1.9" fill="#ff0000" stroke="#ff0000" stroke-width="0.5"/>
<circle cx="482.99" cy="370.8" r="1.9" fill="#ff0000" stroke="#ff0000" stroke-width="0.5"/>
<circle cx="489.6" cy="395" r="1.9" fill="#ff0000" stroke="#ff0000" stroke-width="0.5"/>
<circle cx="496.2" cy="403.5" r="1.9" fill="#ff0000" stroke="#ff0000" stroke-width="0.5"/>
<circle cx="502.81" cy="407" r="1.9" fill="#ff0000" stroke="#ff0000" stroke-width="0.5"/>
<circle cx="509.42" cy="408.5" r="1.9" fill="#ff0000" stroke="#ff0000" stroke-width="0.5"/>
<circle cx="516.02" cy="409.5" r="1.9" fill="#ff0000" stroke="#ff0000" stroke-width="0.5"/>
<circle cx="522.63" cy="409.8" r="1.9" fill="#ff0000" stroke="#ff0000" stroke-width="0.5"/>
<circle cx="529.24" cy="410" r="1.9" fill="#ff0000" stroke="#ff0000" stroke-width="0.5"/>
<circle cx="535.85" cy="410" r="1.9" fill="#ff0000" stroke="#ff0000" stroke-width="0.5"/>
<path d="M317.8,405 C318.9,399.33 322.21,386.68 324.41,371 C326.61,355.32 328.81,324.9 331.01,310.9 C333.22,296.9 335.42,290.6 337.62,287 C339.82,283.4 342.03,290.27 344.23,289.3 C346.43,288.33 348.64,282.55 350.84,281.2 C353.04,279.85 355.24,279.13 357.44,281.2 C359.65,283.27 361.85,289.17 364.05,293.6 C366.25,298.03 368.46,303.5 370.66,307.8 C372.86,312.1 375.07,317.05 377.27,319.4 C379.47,321.75 381.67,322.13 383.88,321.9 C386.08,321.67 388.28,320.12 390.48,318 C392.69,315.88 394.89,312.58 397.09,309.2 C399.29,305.82 401.5,301.67 403.7,297.7 C405.9,293.73 408.1,289.38 410.31,285.4 C412.51,281.42 414.71,276.88 416.91,273.8 C419.12,270.72 421.32,268.82 423.52,266.9 C425.72,264.98 427.93,263.3 430.13,262.3 C432.33,261.3 434.53,260.9 436.74,260.9 C438.94,260.9 441.14,261.2 443.34,262.3 C445.55,263.4 447.75,266.3 449.95,267.5 C452.15,268.7 454.36,268.38 456.56,269.5 C458.76,270.62 460.96,270.65 463.17,274.2 C465.37,277.75 467.57,282.53 469.77,290.8 C471.98,299.07 474.18,311.7 476.38,323.8 C478.58,335.9 480.79,352.48 482.99,363.4 C485.19,374.32 487.39,383.03 489.6,389.3 C491.8,395.57 494,398.22 496.2,401 C498.4,403.78 500.61,404.75 502.81,406 C505.01,407.25 507.22,407.92 509.42,408.5 C511.62,409.08 513.82,409.28 516.02,409.5 C518.23,409.72 520.43,409.72 522.63,409.8 C524.84,409.88 527.04,409.97 529.24,410 C531.44,410.03 534.75,410 535.85,410" fill="none" stroke="#0000ff" stroke-width="1.45" stroke-linejoin="round" />
<polygon points="317.8,402.71 315.6,406.52 320,406.52" fill="#0000ff" stroke="#0000ff" stroke-width="0.5" stroke-linejoin="miter"/>
<polygon points="324.41,368.71 322.21,372.52 326.61,372.52" fill="#0000ff" stroke="#0000ff" stroke-width="0.5" stroke-linejoin="miter"/>
<polygon points="331.01,308.61 328.81,312.42 333.21,312.42" fill="#0000ff" stroke="#0000ff" stroke-width="0.5" stroke-linejoin="miter"/>
<polygon points="337.62,284.71 335.42,288.52 339.82,288.52" fill="#0000ff" stroke="#0000ff" stroke-width="0.5" stroke-linejoin="miter"/>
<polygon points="344.23,287.01 342.03,290.82 346.43,290.82" fill="#0000ff" stroke="#0000ff" stroke-width="0.5" stroke-linejoin="miter"/>
<polygon points="350.84,278.91 348.64,282.72 353.04,282.72" fill="#0000ff" stroke="#0000ff" stroke-width="0.5" stroke-linejoin="miter"/>
<polygon points="357.44,278.91 355.25,282.72 359.64,282.72" fill="#0000ff" stroke="#0000ff" stroke-width="0.5" stroke-linejoin="miter"/>
<polygon points="364.05,291.31 361.85,295.12 366.25,295.12" fill="#0000ff" stroke="#0000ff" stroke-width="0.5" stroke-linejoin="miter"/>
<polygon points="370.66,305.51 368.46,309.32 372.86,309.32" fill="#0000ff" stroke="#0000ff" stroke-width="0.5" stroke-linejoin="miter"/>
<polygon points="377.27,317.11 375.07,320.92 379.47,320.92" fill="#0000ff" stroke="#0000ff" stroke-width="0.5" stroke-linejoin="miter"/>
<polygon points="383.88,319.61 381.68,323.42 386.07,323.42" fill="#0000ff" stroke="#0000ff" stroke-width="0.5" stroke-linejoin="miter"/>
<polygon points="390.48,315.71 388.28,319.52 392.68,319.52" fill="#0000ff" stroke="#0000ff" stroke-width="0.5" stroke-linejoin="miter"/>
<polygon points="397.09,306.91 394.89,310.72 399.29,310.72" fill="#0000ff" stroke="#0000ff" stroke-width="0.5" stroke-linejoin="miter"/>
<polygon points="403.7,295.41 401.5,299.22 405.9,299.22" fill="#0000ff" stroke="#0000ff" stroke-width="0.5" stroke-linejoin="miter"/>
<polygon points="410.31,283.11 408.11,286.92 412.5,286.92" fill="#0000ff" stroke="#0000ff" stroke-width="0.5" stroke-linejoin="miter"/>
<polygon points="416.91,271.51 414.71,275.32 419.11,275.32" fill="#0000ff" stroke="#0000ff" stroke-width="0.5" stroke-linejoin="miter"/>
<polygon points="423.52,264.61 421.32,268.42 425.72,268.42" fill="#0000ff" stroke="#0000ff" stroke-width="0.5" stroke-linejoin="miter"/>
<polygon points="430.13,260.01 427.93,263.82 432.33,263.82" fill="#0000ff" stroke="#0000ff" stroke-width="0.5" stroke-linejoin="miter"/>
<polygon points="436.74,258.61 434.54,262.42 438.94,262.42" fill="#0000ff" stroke="#0000ff" stroke-width="0.5" stroke-linejoin="miter"/>
<polygon points="443.34,260.01 441.14,263.82 445.54,263.82" fill="#0000ff" stroke="#0000ff" stroke-width="0.5" stroke-linejoin="miter"/>
<polygon points="449.95,265.21 447.75,269.02 452.15,269.02" fill="#0000ff" stroke="#0000ff" stroke-width="0.5" stroke-linejoin="miter"/>
<polygon points="456.56,267.21 454.36,271.02 458.76,271.02" fill="#0000ff" stroke="#0000ff" stroke-width="0.5" stroke-linejoin="miter"/>
<polygon points="463.17,271.91 460.97,275.72 465.37,275.72" fill="#0000ff" stroke="#0000ff" stroke-width="0.5" stroke-linejoin="miter"/>
<polygon points="469.77,288.51 467.57,292.32 471.97,292.32" fill="#0000ff" stroke="#0000ff" stroke-width="0.5" stroke-linejoin="miter"/>
<polygon points="476.38,321.51 474.18,325.32 478.58,325.32" fill="#0000ff" stroke="#0000ff" stroke-width="0.5" stroke-linejoin="miter"/>
<polygon points="482.99,361.11 480.79,364.92 485.19,364.92" fill="#0000ff" stroke="#0000ff" stroke-width="0.5" stroke-linejoin="miter"/>
<polygon points="489.6,387.01 487.4,390.82 491.8,390.82" fill="#0000ff" stroke="#0000ff" stroke-width="0.5" stroke-linejoin="miter"/>
<polygon points="496.2,398.71 494,402.52 498.4,402.52" fill="#0000ff" stroke="#0000ff" stroke-width="0.5" stroke-linejoin="miter"/>
<polygon points="502.81,403.71 500.61,407.52 505.01,407.52" fill="#0000ff" stroke="#0000ff" stroke-width="0.5" stroke-linejoin="miter"/>
<polygon points="509.42,406.21 507.22,410.02 511.62,410.02" fill="#0000ff" stroke="#0000ff" stroke-width="0.5" stroke-linejoin="miter"/>
<polygon points="516.02,407.21 513.82,411.02 518.23,411.02" fill="#0000ff" stroke="#0000ff" stroke-width="0.5" stroke-linejoin="miter"/>
<polygon points="522.63,407.51 520.43,411.32 524.83,411.32" fill="#0000ff" stroke="#0000ff" stroke-width="0.5" stroke-linejoin="miter"/>
<polygon points="529.24,407.71 527.04,411.52 531.44,411.52" fill="#0000ff" stroke="#0000ff" stroke-width="0.5" stroke-linejoin="miter"/>
<polygon points="535.85,407.71 533.65,411.52 538.05,411.52" fill="#0000ff" stroke="#0000ff" stroke-width="0.5" stroke-linejoin="miter"/>
<rect x="317.8" y="232.6" width="220.4" height="178.2" fill="none" stroke="#000" stroke-width="1.6"/>
<line x1="317.8" y1="410.8" x2="317.8" y2="407.3" stroke="#000" stroke-width="1.2"/>
<line x1="361.85" y1="410.8" x2="361.85" y2="407.3" stroke="#000" stroke-width="1.2"/>
<line x1="405.9" y1="410.8" x2="405.9" y2="407.3" stroke="#000" stroke-width="1.2"/>
<line x1="449.95" y1="410.8" x2="449.95" y2="407.3" stroke="#000" stroke-width="1.2"/>
<line x1="494" y1="410.8" x2="494" y2="407.3" stroke="#000" stroke-width="1.2"/>
<line x1="538.05" y1="410.8" x2="538.05" y2="407.3" stroke="#000" stroke-width="1.2"/>
<line x1="339.82" y1="410.8" x2="339.82" y2="408.8" stroke="#000" stroke-width="1.1"/>
<line x1="383.88" y1="410.8" x2="383.88" y2="408.8" stroke="#000" stroke-width="1.1"/>
<line x1="427.93" y1="410.8" x2="427.93" y2="408.8" stroke="#000" stroke-width="1.1"/>
<line x1="471.98" y1="410.8" x2="471.98" y2="408.8" stroke="#000" stroke-width="1.1"/>
<line x1="516.02" y1="410.8" x2="516.02" y2="408.8" stroke="#000" stroke-width="1.1"/>
<line x1="317.8" y1="410.5" x2="321.3" y2="410.5" stroke="#000" stroke-width="1.2"/>
<line x1="317.8" y1="366.1" x2="321.3" y2="366.1" stroke="#000" stroke-width="1.2"/>
<line x1="317.8" y1="321.7" x2="321.3" y2="321.7" stroke="#000" stroke-width="1.2"/>
<line x1="317.8" y1="277.3" x2="321.3" y2="277.3" stroke="#000" stroke-width="1.2"/>
<line x1="317.8" y1="232.9" x2="321.3" y2="232.9" stroke="#000" stroke-width="1.2"/>
<line x1="317.8" y1="388.3" x2="319.8" y2="388.3" stroke="#000" stroke-width="1.1"/>
<line x1="317.8" y1="343.9" x2="319.8" y2="343.9" stroke="#000" stroke-width="1.1"/>
<line x1="317.8" y1="299.5" x2="319.8" y2="299.5" stroke="#000" stroke-width="1.1"/>
<line x1="317.8" y1="255.1" x2="319.8" y2="255.1" stroke="#000" stroke-width="1.1"/>
<text x="317.8" y="423.2" font-family='"Liberation Sans", sans-serif' font-size="10.6" font-weight="bold" text-anchor="middle" >300</text>
<text x="361.85" y="423.2" font-family='"Liberation Sans", sans-serif' font-size="10.6" font-weight="bold" text-anchor="middle" >400</text>
<text x="405.9" y="423.2" font-family='"Liberation Sans", sans-serif' font-size="10.6" font-weight="bold" text-anchor="middle" >500</text>
<text x="449.95" y="423.2" font-family='"Liberation Sans", sans-serif' font-size="10.6" font-weight="bold" text-anchor="middle" >600</text>
<text x="494" y="423.2" font-family='"Liberation Sans", sans-serif' font-size="10.6" font-weight="bold" text-anchor="middle" >700</text>
<text x="538.05" y="423.2" font-family='"Liberation Sans", sans-serif' font-size="10.6" font-weight="bold" text-anchor="middle" >800</text>
<text x="313.5" y="414.2" font-family='"Liberation Sans", sans-serif' font-size="10.5" font-weight="bold" text-anchor="end" >0</text>
<text x="313.5" y="369.8" font-family='"Liberation Sans", sans-serif' font-size="10.5" font-weight="bold" text-anchor="end" >20</text>
<text x="313.5" y="325.4" font-family='"Liberation Sans", sans-serif' font-size="10.5" font-weight="bold" text-anchor="end" >40</text>
<text x="313.5" y="281" font-family='"Liberation Sans", sans-serif' font-size="10.5" font-weight="bold" text-anchor="end" >60</text>
<text x="313.5" y="236.6" font-family='"Liberation Sans", sans-serif' font-size="10.5" font-weight="bold" text-anchor="end" >80</text>
<text x="427.4" y="445.5" font-family='"Liberation Sans", sans-serif' font-size="15" font-weight="bold" text-anchor="middle" >Wavelength (nm)</text>
<text transform="translate(289.6,316) rotate(-90)" font-family='"Liberation Sans", sans-serif' font-size="14.9" font-weight="bold" text-anchor="middle">IPCE (%)</text>
<text x="326.7" y="243.9" font-family='"Liberation Serif", serif' font-size="10.4" font-weight="bold" text-anchor="middle" >(d)</text>
<text x="340.9" y="246.4" font-family='"Liberation Sans", sans-serif' font-size="11.7" font-weight="bold" text-anchor="start" >PBDTBDD:PCBM</text>
<line x1="361.3" y1="360.5" x2="382.7" y2="360.5" stroke="#000" stroke-width="1.2"/>
<rect x="370.25" y="358.95" width="3.1" height="3.1" fill="#000" stroke="#000" stroke-width="0.4"/>
<text x="385.3" y="364.2" font-family='"Liberation Sans", sans-serif' font-size="10.7" font-weight="bold" text-anchor="start" >Al</text>
<line x1="361.3" y1="374.4" x2="382.7" y2="374.4" stroke="#ff0000" stroke-width="1.2"/>
<circle cx="371.8" cy="374.4" r="1.9" fill="#ff0000" stroke="#ff0000" stroke-width="0.4"/>
<text x="385.3" y="378.1" font-family='"Liberation Sans", sans-serif' font-size="10.7" font-weight="bold" text-anchor="start" >Ca</text>
<line x1="361.3" y1="388.1" x2="382.7" y2="388.1" stroke="#0000ff" stroke-width="1.2"/>
<polygon points="371.8,385.87 369.65,389.59 373.95,389.59" fill="#0000ff" stroke="#0000ff" stroke-width="0.4" stroke-linejoin="miter"/>
<text x="385.3" y="391.8" font-family='"Liberation Sans", sans-serif' font-size="10.7" font-weight="bold" text-anchor="start" >ZrIPO</text>
</svg></body></html>
